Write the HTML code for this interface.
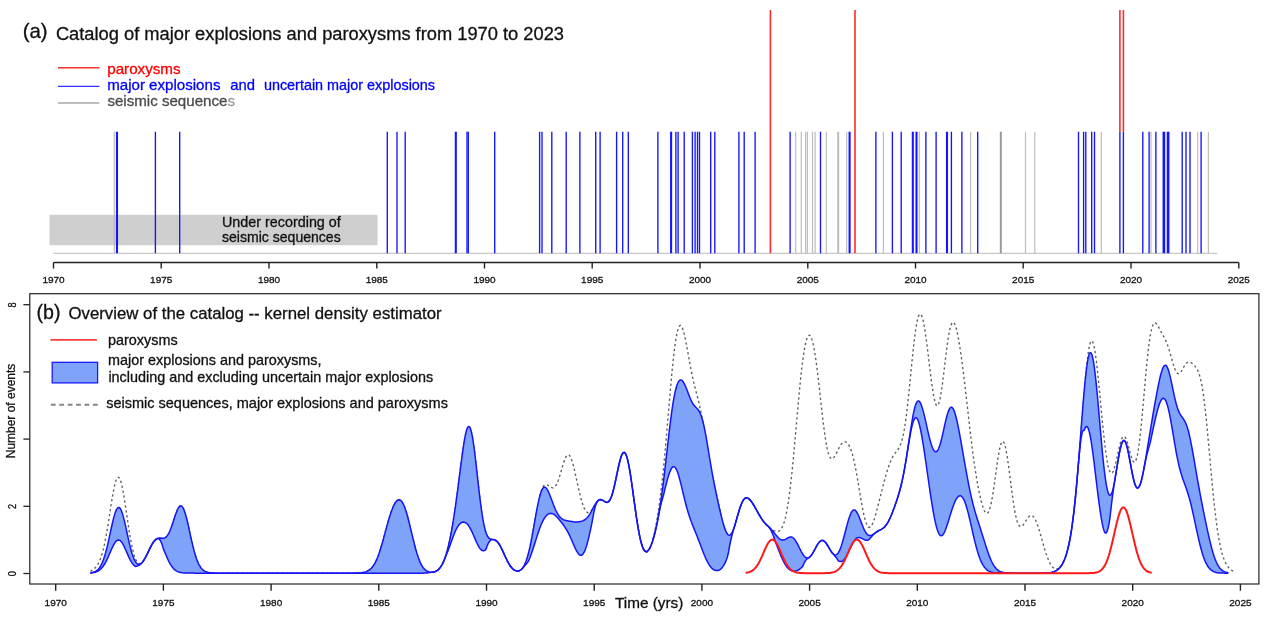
<!DOCTYPE html>
<html><head><meta charset="utf-8"><title>Catalog</title>
<style>
html,body{margin:0;padding:0;background:#fff;}
svg{display:block;filter:opacity(1);}
svg text{font-family:"Liberation Sans",sans-serif;stroke-width:0.3px;}
</style></head>
<body>
<svg width="1275" height="617" viewBox="0 0 1275 617">
<rect width="1275" height="617" fill="#fff"/>
<g id="top">
<rect x="49.5" y="214.8" width="328" height="30.4" fill="#cfcfcf"/>
<line x1="53.5" y1="253.3" x2="1217.3" y2="253.3" stroke="#c8c8c8" stroke-width="1.2"/>
<line x1="114.3" y1="131.7" x2="114.3" y2="253.2" stroke="#bdbdbd" stroke-width="1.2"/>
<line x1="795.7" y1="131.7" x2="795.7" y2="253.2" stroke="#bdbdbd" stroke-width="1.2"/>
<line x1="801.3" y1="131.7" x2="801.3" y2="253.2" stroke="#bdbdbd" stroke-width="1.2"/>
<line x1="805.6" y1="131.7" x2="805.6" y2="253.2" stroke="#bdbdbd" stroke-width="1.2"/>
<line x1="807.4" y1="131.7" x2="807.4" y2="253.2" stroke="#bdbdbd" stroke-width="1.2"/>
<line x1="812.5" y1="131.7" x2="812.5" y2="253.2" stroke="#bdbdbd" stroke-width="1.2"/>
<line x1="815.1" y1="131.7" x2="815.1" y2="253.2" stroke="#bdbdbd" stroke-width="1.2"/>
<line x1="826.3" y1="131.7" x2="826.3" y2="253.2" stroke="#bdbdbd" stroke-width="1.2"/>
<line x1="838.2" y1="131.7" x2="838.2" y2="253.2" stroke="#bdbdbd" stroke-width="2.0"/>
<line x1="846.7" y1="131.7" x2="846.7" y2="253.2" stroke="#bdbdbd" stroke-width="1.2"/>
<line x1="883.4" y1="131.7" x2="883.4" y2="253.2" stroke="#bdbdbd" stroke-width="1.2"/>
<line x1="919.4" y1="131.7" x2="919.4" y2="253.2" stroke="#bdbdbd" stroke-width="1.2"/>
<line x1="970.6" y1="131.7" x2="970.6" y2="253.2" stroke="#bdbdbd" stroke-width="1.2"/>
<line x1="1000.8" y1="131.7" x2="1000.8" y2="253.2" stroke="#9a9a9a" stroke-width="2.0"/>
<line x1="1025.5" y1="131.7" x2="1025.5" y2="253.2" stroke="#bdbdbd" stroke-width="1.2"/>
<line x1="1034.8" y1="131.7" x2="1034.8" y2="253.2" stroke="#bdbdbd" stroke-width="1.2"/>
<line x1="1101.3" y1="131.7" x2="1101.3" y2="253.2" stroke="#bdbdbd" stroke-width="1.2"/>
<line x1="1151" y1="131.7" x2="1151" y2="253.2" stroke="#bdbdbd" stroke-width="1.2"/>
<line x1="1197.7" y1="131.7" x2="1197.7" y2="253.2" stroke="#bdbdbd" stroke-width="1.2"/>
<line x1="1208.4" y1="131.7" x2="1208.4" y2="253.2" stroke="#bdbdbd" stroke-width="1.2"/>
<line x1="117.0" y1="131.7" x2="117.0" y2="253.2" stroke="#1414ff" stroke-width="2.1"/>
<line x1="155.4" y1="131.7" x2="155.4" y2="253.2" stroke="#1414ff" stroke-width="1.35"/>
<line x1="179.7" y1="131.7" x2="179.7" y2="253.2" stroke="#1414ff" stroke-width="1.35"/>
<line x1="387.3" y1="131.7" x2="387.3" y2="253.2" stroke="#1414ff" stroke-width="1.35"/>
<line x1="397" y1="131.7" x2="397" y2="253.2" stroke="#1414ff" stroke-width="1.35"/>
<line x1="405.2" y1="131.7" x2="405.2" y2="253.2" stroke="#1414ff" stroke-width="1.35"/>
<line x1="455.8" y1="131.7" x2="455.8" y2="253.2" stroke="#1414ff" stroke-width="2.1"/>
<line x1="467" y1="131.7" x2="467" y2="253.2" stroke="#1414ff" stroke-width="1.35"/>
<line x1="468.3" y1="131.7" x2="468.3" y2="253.2" stroke="#1414ff" stroke-width="1.35"/>
<line x1="494.7" y1="131.7" x2="494.7" y2="253.2" stroke="#1414ff" stroke-width="1.35"/>
<line x1="539.6" y1="131.7" x2="539.6" y2="253.2" stroke="#1414ff" stroke-width="1.35"/>
<line x1="542" y1="131.7" x2="542" y2="253.2" stroke="#1414ff" stroke-width="1.35"/>
<line x1="551.8" y1="131.7" x2="551.8" y2="253.2" stroke="#1414ff" stroke-width="1.35"/>
<line x1="566.2" y1="131.7" x2="566.2" y2="253.2" stroke="#1414ff" stroke-width="1.35"/>
<line x1="579.9" y1="131.7" x2="579.9" y2="253.2" stroke="#1414ff" stroke-width="1.35"/>
<line x1="595.7" y1="131.7" x2="595.7" y2="253.2" stroke="#1414ff" stroke-width="1.35"/>
<line x1="600.1" y1="131.7" x2="600.1" y2="253.2" stroke="#1414ff" stroke-width="1.35"/>
<line x1="616.6" y1="131.7" x2="616.6" y2="253.2" stroke="#1414ff" stroke-width="1.35"/>
<line x1="622.7" y1="131.7" x2="622.7" y2="253.2" stroke="#1414ff" stroke-width="1.35"/>
<line x1="628.3" y1="131.7" x2="628.3" y2="253.2" stroke="#1414ff" stroke-width="1.35"/>
<line x1="657.9" y1="131.7" x2="657.9" y2="253.2" stroke="#1414ff" stroke-width="1.35"/>
<line x1="671.1" y1="131.7" x2="671.1" y2="253.2" stroke="#1414ff" stroke-width="2.1"/>
<line x1="675.9" y1="131.7" x2="675.9" y2="253.2" stroke="#1414ff" stroke-width="1.35"/>
<line x1="678.1" y1="131.7" x2="678.1" y2="253.2" stroke="#1414ff" stroke-width="1.35"/>
<line x1="684.2" y1="131.7" x2="684.2" y2="253.2" stroke="#1414ff" stroke-width="1.35"/>
<line x1="692.4" y1="131.7" x2="692.4" y2="253.2" stroke="#1414ff" stroke-width="1.35"/>
<line x1="695.1" y1="131.7" x2="695.1" y2="253.2" stroke="#1414ff" stroke-width="1.35"/>
<line x1="697.5" y1="131.7" x2="697.5" y2="253.2" stroke="#1414ff" stroke-width="1.35"/>
<line x1="699.5" y1="131.7" x2="699.5" y2="253.2" stroke="#1414ff" stroke-width="1.35"/>
<line x1="710.7" y1="131.7" x2="710.7" y2="253.2" stroke="#1414ff" stroke-width="1.35"/>
<line x1="714.8" y1="131.7" x2="714.8" y2="253.2" stroke="#1414ff" stroke-width="1.35"/>
<line x1="738.9" y1="131.7" x2="738.9" y2="253.2" stroke="#1414ff" stroke-width="1.35"/>
<line x1="744.2" y1="131.7" x2="744.2" y2="253.2" stroke="#1414ff" stroke-width="1.35"/>
<line x1="755.1" y1="131.7" x2="755.1" y2="253.2" stroke="#1414ff" stroke-width="1.35"/>
<line x1="790.1" y1="131.7" x2="790.1" y2="253.2" stroke="#1414ff" stroke-width="1.35"/>
<line x1="820.5" y1="131.7" x2="820.5" y2="253.2" stroke="#1414ff" stroke-width="1.35"/>
<line x1="849.6" y1="131.7" x2="849.6" y2="253.2" stroke="#1414ff" stroke-width="2.1"/>
<line x1="875.9" y1="131.7" x2="875.9" y2="253.2" stroke="#1414ff" stroke-width="1.35"/>
<line x1="892.4" y1="131.7" x2="892.4" y2="253.2" stroke="#1414ff" stroke-width="1.35"/>
<line x1="901.2" y1="131.7" x2="901.2" y2="253.2" stroke="#1414ff" stroke-width="1.35"/>
<line x1="912.8" y1="131.7" x2="912.8" y2="253.2" stroke="#1414ff" stroke-width="2.1"/>
<line x1="916.5" y1="131.7" x2="916.5" y2="253.2" stroke="#1414ff" stroke-width="2.1"/>
<line x1="925.9" y1="131.7" x2="925.9" y2="253.2" stroke="#1414ff" stroke-width="1.35"/>
<line x1="936.1" y1="131.7" x2="936.1" y2="253.2" stroke="#1414ff" stroke-width="1.35"/>
<line x1="947.0" y1="131.7" x2="947.0" y2="253.2" stroke="#1414ff" stroke-width="2.1"/>
<line x1="951.4" y1="131.7" x2="951.4" y2="253.2" stroke="#1414ff" stroke-width="1.35"/>
<line x1="961.9" y1="131.7" x2="961.9" y2="253.2" stroke="#1414ff" stroke-width="1.35"/>
<line x1="977.7" y1="131.7" x2="977.7" y2="253.2" stroke="#1414ff" stroke-width="1.35"/>
<line x1="1078.5" y1="131.7" x2="1078.5" y2="253.2" stroke="#1414ff" stroke-width="1.35"/>
<line x1="1083.6" y1="131.7" x2="1083.6" y2="253.2" stroke="#1414ff" stroke-width="1.35"/>
<line x1="1085.8" y1="131.7" x2="1085.8" y2="253.2" stroke="#1414ff" stroke-width="1.35"/>
<line x1="1091.7" y1="131.7" x2="1091.7" y2="253.2" stroke="#1414ff" stroke-width="1.35"/>
<line x1="1094.5" y1="131.7" x2="1094.5" y2="253.2" stroke="#1414ff" stroke-width="1.35"/>
<line x1="1119.9" y1="131.7" x2="1119.9" y2="253.2" stroke="#1414ff" stroke-width="1.35"/>
<line x1="1123.4" y1="131.7" x2="1123.4" y2="253.2" stroke="#1414ff" stroke-width="1.35"/>
<line x1="1142.8" y1="131.7" x2="1142.8" y2="253.2" stroke="#1414ff" stroke-width="1.35"/>
<line x1="1149.1" y1="131.7" x2="1149.1" y2="253.2" stroke="#1414ff" stroke-width="1.35"/>
<line x1="1155.9" y1="131.7" x2="1155.9" y2="253.2" stroke="#1414ff" stroke-width="1.35"/>
<line x1="1163.9" y1="131.7" x2="1163.9" y2="253.2" stroke="#1414ff" stroke-width="2.7"/>
<line x1="1168.1" y1="131.7" x2="1168.1" y2="253.2" stroke="#1414ff" stroke-width="2.7"/>
<line x1="1182.2" y1="131.7" x2="1182.2" y2="253.2" stroke="#1414ff" stroke-width="1.35"/>
<line x1="1186" y1="131.7" x2="1186" y2="253.2" stroke="#1414ff" stroke-width="1.35"/>
<line x1="1190" y1="131.7" x2="1190" y2="253.2" stroke="#1414ff" stroke-width="1.35"/>
<line x1="1201.1" y1="131.7" x2="1201.1" y2="253.2" stroke="#1414ff" stroke-width="1.35"/>
<line x1="770.4" y1="10" x2="770.4" y2="253.2" stroke="#ff2a2a" stroke-width="1.6"/>
<line x1="855.0" y1="10" x2="855.0" y2="253.2" stroke="#ff2a2a" stroke-width="1.6"/>
<line x1="1119.9" y1="10" x2="1119.9" y2="131.7" stroke="#ff2a2a" stroke-width="1.6"/>
<line x1="1123.4" y1="10" x2="1123.4" y2="131.7" stroke="#ff2a2a" stroke-width="1.6"/>
<line x1="53.5" y1="262.5" x2="1238.75" y2="262.5" stroke="#222" stroke-width="1.4"/>
<line x1="53.5" y1="262.5" x2="53.5" y2="268.5" stroke="#222" stroke-width="1.4"/>
<text transform="translate(53.5,282.6) scale(1,0.95)" font-size="10" text-anchor="middle" fill="#111" stroke="#111">1970</text>
<line x1="161.2" y1="262.5" x2="161.2" y2="268.5" stroke="#222" stroke-width="1.4"/>
<text transform="translate(161.2,282.6) scale(1,0.95)" font-size="10" text-anchor="middle" fill="#111" stroke="#111">1975</text>
<line x1="269.0" y1="262.5" x2="269.0" y2="268.5" stroke="#222" stroke-width="1.4"/>
<text transform="translate(269.0,282.6) scale(1,0.95)" font-size="10" text-anchor="middle" fill="#111" stroke="#111">1980</text>
<line x1="376.8" y1="262.5" x2="376.8" y2="268.5" stroke="#222" stroke-width="1.4"/>
<text transform="translate(376.8,282.6) scale(1,0.95)" font-size="10" text-anchor="middle" fill="#111" stroke="#111">1985</text>
<line x1="484.5" y1="262.5" x2="484.5" y2="268.5" stroke="#222" stroke-width="1.4"/>
<text transform="translate(484.5,282.6) scale(1,0.95)" font-size="10" text-anchor="middle" fill="#111" stroke="#111">1990</text>
<line x1="592.2" y1="262.5" x2="592.2" y2="268.5" stroke="#222" stroke-width="1.4"/>
<text transform="translate(592.2,282.6) scale(1,0.95)" font-size="10" text-anchor="middle" fill="#111" stroke="#111">1995</text>
<line x1="700.0" y1="262.5" x2="700.0" y2="268.5" stroke="#222" stroke-width="1.4"/>
<text transform="translate(700.0,282.6) scale(1,0.95)" font-size="10" text-anchor="middle" fill="#111" stroke="#111">2000</text>
<line x1="807.8" y1="262.5" x2="807.8" y2="268.5" stroke="#222" stroke-width="1.4"/>
<text transform="translate(807.8,282.6) scale(1,0.95)" font-size="10" text-anchor="middle" fill="#111" stroke="#111">2005</text>
<line x1="915.5" y1="262.5" x2="915.5" y2="268.5" stroke="#222" stroke-width="1.4"/>
<text transform="translate(915.5,282.6) scale(1,0.95)" font-size="10" text-anchor="middle" fill="#111" stroke="#111">2010</text>
<line x1="1023.2" y1="262.5" x2="1023.2" y2="268.5" stroke="#222" stroke-width="1.4"/>
<text transform="translate(1023.2,282.6) scale(1,0.95)" font-size="10" text-anchor="middle" fill="#111" stroke="#111">2015</text>
<line x1="1131.0" y1="262.5" x2="1131.0" y2="268.5" stroke="#222" stroke-width="1.4"/>
<text transform="translate(1131.0,282.6) scale(1,0.95)" font-size="10" text-anchor="middle" fill="#111" stroke="#111">2020</text>
<line x1="1238.8" y1="262.5" x2="1238.8" y2="268.5" stroke="#222" stroke-width="1.4"/>
<text transform="translate(1238.8,282.6) scale(1,0.95)" font-size="10" text-anchor="middle" fill="#111" stroke="#111">2025</text>
</g>
<g id="bottom">
<path d="M90.3,571.2 L91.3,570.8 L92.3,570.2 L93.3,569.5 L94.3,568.7 L95.3,567.7 L96.3,566.5 L97.3,565.1 L98.3,563.4 L99.3,561.4 L100.3,559.1 L101.3,556.3 L102.3,553.0 L103.3,549.2 L104.3,544.9 L105.3,540.1 L106.3,534.8 L107.3,529.1 L108.3,522.9 L109.3,516.5 L110.3,510.1 L111.3,503.6 L112.3,497.5 L113.3,491.8 L114.3,486.8 L115.3,482.7 L116.3,479.6 L117.3,477.8 L118.3,477.2 L119.3,477.9 L120.3,479.9 L121.3,483.1 L122.3,487.4 L123.3,492.6 L124.3,498.6 L125.3,505.0 L126.3,511.8 L127.3,518.6 L128.3,525.4 L129.3,531.8 L130.3,537.8 L131.3,543.2 L132.3,548.1 L133.3,552.2 L134.3,555.7 L135.3,558.5 L136.3,560.7 L137.3,562.2 L138.3,563.2 L139.3,563.6 L140.3,563.6 L141.3,563.1 L142.3,562.2 L143.3,561.0 L144.3,559.5 L145.3,557.8 L146.3,555.9 L147.3,553.9 L148.3,551.8 L149.3,549.7 L150.3,547.7 L151.3,545.7 L152.3,543.9 L153.3,542.4 L154.3,541.0 L155.3,539.9 L156.3,539.1 L157.3,538.5 L158.3,538.2 L159.3,538.1 L160.3,538.1 L161.3,538.2 L162.3,538.3 L163.3,538.2 L164.3,538.0 L165.3,537.6 L166.3,536.8 L167.3,535.7 L168.3,534.2 L169.3,532.3 L170.3,530.0 L171.3,527.4 L172.3,524.5 L173.3,521.4 L174.3,518.3 L175.3,515.3 L176.3,512.4 L177.3,510.0 L178.3,508.0 L179.3,506.6 L180.3,505.9 L181.3,505.9 L182.3,506.8 L183.3,508.4 L184.3,510.7 L185.3,513.7 L186.3,517.3 L187.3,521.3 L188.3,525.6 L189.3,530.2 L190.3,534.8 L191.3,539.3 L192.3,543.7 L193.3,547.8 L194.3,551.6 L195.3,555.1 L196.3,558.2 L197.3,560.9 L198.3,563.3 L199.3,565.2 L200.3,566.9 L201.3,568.3 L202.3,569.4 L203.3,570.3 L204.3,571.0 L205.3,571.5 L206.3,571.9 L207.3,572.3 L208.3,572.5 L209.3,572.7 L210.3,572.8 L211.3,572.9 L212.3,573.0 L213.3,573.1 L214.3,573.1 L215.3,573.1 L216.3,573.2 L217.3,573.2 L218.3,573.2 L219.3,573.2 L220.3,573.2 L221.3,573.2 L222.3,573.2 L223.3,573.2 L224.3,573.2 L225.3,573.2 L226.3,573.2 L227.3,573.2 L228.3,573.2 L229.3,573.2 L230.3,573.2 L231.3,573.2 L232.3,573.2 L233.3,573.2 L234.3,573.2 L235.3,573.2 L236.3,573.2 L237.3,573.2 L238.3,573.2 L239.3,573.2 L240.3,573.2 L241.3,573.2 L242.3,573.2 L243.3,573.2 L244.3,573.2 L245.3,573.2 L246.3,573.2 L247.3,573.2 L248.3,573.2 L249.3,573.2 L250.3,573.2 L251.3,573.2 L252.3,573.2 L253.3,573.2 L254.3,573.2 L255.3,573.2 L256.3,573.2 L257.3,573.2 L258.3,573.2 L259.3,573.2 L260.3,573.2 L261.3,573.2 L262.3,573.2 L263.3,573.2 L264.3,573.2 L265.3,573.2 L266.3,573.2 L267.3,573.2 L268.3,573.2 L269.3,573.2 L270.3,573.2 L271.3,573.2 L272.3,573.2 L273.3,573.2 L274.3,573.2 L275.3,573.2 L276.3,573.2 L277.3,573.2 L278.3,573.2 L279.3,573.2 L280.3,573.2 L281.3,573.2 L282.3,573.2 L283.3,573.2 L284.3,573.2 L285.3,573.2 L286.3,573.2 L287.3,573.2 L288.3,573.2 L289.3,573.2 L290.3,573.2 L291.3,573.2 L292.3,573.2 L293.3,573.2 L294.3,573.2 L295.3,573.2 L296.3,573.2 L297.3,573.2 L298.3,573.2 L299.3,573.2 L300.3,573.2 L301.3,573.2 L302.3,573.2 L303.3,573.2 L304.3,573.2 L305.3,573.2 L306.3,573.2 L307.3,573.2 L308.3,573.2 L309.3,573.2 L310.3,573.2 L311.3,573.2 L312.3,573.2 L313.3,573.2 L314.3,573.2 L315.3,573.2 L316.3,573.2 L317.3,573.2 L318.3,573.2 L319.3,573.2 L320.3,573.2 L321.3,573.2 L322.3,573.2 L323.3,573.2 L324.3,573.2 L325.3,573.2 L326.3,573.2 L327.3,573.2 L328.3,573.2 L329.3,573.2 L330.3,573.2 L331.3,573.2 L332.3,573.2 L333.3,573.2 L334.3,573.2 L335.3,573.2 L336.3,573.2 L337.3,573.2 L338.3,573.2 L339.3,573.2 L340.3,573.2 L341.3,573.2 L342.3,573.2 L343.3,573.2 L344.3,573.2 L345.3,573.2 L346.3,573.2 L347.3,573.2 L348.3,573.2 L349.3,573.2 L350.3,573.2 L351.3,573.2 L352.3,573.2 L353.3,573.2 L354.3,573.1 L355.3,573.1 L356.3,573.1 L357.3,573.1 L358.3,573.0 L359.3,572.9 L360.3,572.9 L361.3,572.7 L362.3,572.6 L363.3,572.4 L364.3,572.2 L365.3,571.9 L366.3,571.6 L367.3,571.2 L368.3,570.6 L369.3,570.0 L370.3,569.2 L371.3,568.3 L372.3,567.1 L373.3,565.8 L374.3,564.2 L375.3,562.4 L376.3,560.4 L377.3,558.1 L378.3,555.5 L379.3,552.7 L380.3,549.6 L381.3,546.3 L382.3,542.9 L383.3,539.3 L384.3,535.6 L385.3,531.9 L386.3,528.2 L387.3,524.6 L388.3,521.0 L389.3,517.6 L390.3,514.5 L391.3,511.5 L392.3,508.9 L393.3,506.5 L394.3,504.4 L395.3,502.7 L396.3,501.4 L397.3,500.4 L398.3,499.9 L399.3,499.8 L400.3,500.2 L401.3,501.0 L402.3,502.3 L403.3,504.1 L404.3,506.3 L405.3,509.0 L406.3,512.0 L407.3,515.5 L408.3,519.2 L409.3,523.1 L410.3,527.3 L411.3,531.5 L412.3,535.7 L413.3,539.8 L414.3,543.9 L415.3,547.7 L416.3,551.3 L417.3,554.6 L418.3,557.6 L419.3,560.2 L420.3,562.6 L421.3,564.6 L422.3,566.3 L423.3,567.8 L424.3,569.0 L425.3,569.9 L426.3,570.7 L427.3,571.3 L428.3,571.7 L429.3,572.0 L430.3,572.2 L431.3,572.2 L432.3,572.2 L433.3,572.1 L434.3,571.8 L435.3,571.5 L436.3,571.0 L437.3,570.4 L438.3,569.6 L439.3,568.6 L440.3,567.4 L441.3,565.9 L442.3,564.2 L443.3,562.1 L444.3,559.7 L445.3,557.0 L446.3,553.8 L447.3,550.3 L448.3,546.4 L449.3,542.0 L450.3,537.3 L451.3,532.1 L452.3,526.5 L453.3,520.5 L454.3,514.1 L455.3,507.3 L456.3,500.2 L457.3,492.7 L458.3,485.1 L459.3,477.2 L460.3,469.4 L461.3,461.6 L462.3,454.1 L463.3,447.1 L464.3,440.8 L465.3,435.4 L466.3,431.1 L467.3,428.2 L468.3,426.6 L469.3,426.7 L470.3,428.3 L471.3,431.5 L472.3,436.2 L473.3,442.3 L474.3,449.5 L475.3,457.6 L476.3,466.3 L477.3,475.3 L478.3,484.3 L479.3,493.1 L480.3,501.3 L481.3,508.9 L482.3,515.7 L483.3,521.6 L484.3,526.5 L485.3,530.5 L486.3,533.6 L487.3,535.8 L488.3,537.4 L489.3,538.4 L490.3,539.0 L491.3,539.3 L492.3,539.5 L493.3,539.6 L494.3,539.9 L495.3,540.2 L496.3,540.9 L497.3,541.7 L498.3,542.9 L499.3,544.4 L500.3,546.1 L501.3,548.0 L502.3,550.1 L503.3,552.2 L504.3,554.5 L505.3,556.7 L506.3,558.8 L507.3,560.9 L508.3,562.7 L509.3,564.5 L510.3,566.0 L511.3,567.3 L512.3,568.4 L513.3,569.3 L514.3,570.0 L515.3,570.6 L516.3,570.9 L517.3,571.0 L518.3,571.0 L519.3,570.7 L520.3,570.2 L521.3,569.4 L522.3,568.4 L523.3,567.0 L524.3,565.2 L525.3,563.1 L526.3,560.5 L527.3,557.4 L528.3,553.9 L529.3,549.8 L530.3,545.3 L531.3,540.4 L532.3,535.2 L533.3,529.7 L534.3,524.0 L535.3,518.3 L536.3,512.7 L537.3,507.4 L538.3,502.5 L539.3,498.0 L540.3,494.1 L541.3,490.9 L542.3,488.4 L543.3,486.5 L544.3,485.3 L545.3,484.7 L546.3,484.6 L547.3,484.9 L548.3,485.5 L549.3,486.2 L550.3,486.9 L551.3,487.5 L552.3,487.8 L553.3,487.8 L554.3,487.3 L555.3,486.3 L556.3,484.8 L557.3,482.8 L558.3,480.3 L559.3,477.3 L560.3,474.1 L561.3,470.6 L562.3,467.1 L563.3,463.8 L564.3,460.7 L565.3,458.2 L566.3,456.2 L567.3,455.1 L568.3,454.7 L569.3,455.2 L570.3,456.6 L571.3,458.8 L572.3,461.8 L573.3,465.3 L574.3,469.4 L575.3,473.8 L576.3,478.3 L577.3,483.0 L578.3,487.5 L579.3,491.9 L580.3,496.0 L581.3,499.8 L582.3,503.1 L583.3,506.0 L584.3,508.4 L585.3,510.3 L586.3,511.6 L587.3,512.4 L588.3,512.7 L589.3,512.4 L590.3,511.8 L591.3,510.7 L592.3,509.4 L593.3,507.8 L594.3,506.1 L595.3,504.5 L596.3,503.0 L597.3,501.7 L598.3,500.7 L599.3,500.0 L600.3,499.7 L601.3,499.7 L602.3,500.0 L603.3,500.6 L604.3,501.2 L605.3,501.7 L606.3,502.1 L607.3,502.2 L608.3,501.8 L609.3,500.8 L610.3,499.2 L611.3,497.0 L612.3,494.0 L613.3,490.5 L614.3,486.4 L615.3,481.9 L616.3,477.2 L617.3,472.3 L618.3,467.7 L619.3,463.3 L620.3,459.5 L621.3,456.3 L622.3,454.0 L623.3,452.7 L624.3,452.5 L625.3,453.4 L626.3,455.5 L627.3,458.6 L628.3,462.8 L629.3,467.9 L630.3,473.8 L631.3,480.3 L632.3,487.3 L633.3,494.5 L634.3,501.8 L635.3,509.1 L636.3,516.1 L637.3,522.7 L638.3,528.8 L639.3,534.3 L640.3,539.2 L641.3,543.3 L642.3,546.6 L643.3,549.2 L644.3,551.0 L645.3,552.0 L646.3,552.3 L647.3,552.0 L648.3,551.0 L649.3,549.4 L650.3,547.2 L651.3,544.4 L652.3,541.2 L653.3,537.5 L654.3,533.2 L655.3,528.5 L656.3,523.3 L657.3,517.5 L658.3,511.2 L659.3,504.3 L660.3,496.7 L661.3,488.5 L662.3,479.6 L663.3,470.0 L664.3,459.7 L665.3,448.9 L666.3,437.6 L667.3,426.0 L668.3,414.1 L669.3,402.3 L670.3,390.7 L671.3,379.5 L672.3,368.9 L673.3,359.2 L674.3,350.5 L675.3,342.9 L676.3,336.6 L677.3,331.7 L678.3,328.2 L679.3,326.1 L680.3,325.4 L681.3,326.0 L682.3,327.8 L683.3,330.6 L684.3,334.3 L685.3,338.8 L686.3,343.8 L687.3,349.2 L688.3,354.7 L689.3,360.3 L690.3,365.7 L691.3,370.9 L692.3,375.8 L693.3,380.3 L694.3,384.6 L695.3,388.7 L696.3,392.6 L697.3,396.4 L698.3,400.4 L699.3,404.6 L700.3,409.0 L701.3,413.8 L702.3,418.9 L703.3,424.3 L704.3,430.0 L705.3,435.9 L706.3,441.9 L707.3,447.9 L708.3,453.8 L709.3,459.5 L710.3,465.0 L711.3,470.3 L712.3,475.3 L713.3,480.1 L714.3,484.7 L715.3,489.2 L716.3,493.6 L717.3,498.1 L718.3,502.5 L719.3,506.9 L720.3,511.3 L721.3,515.6 L722.3,519.7 L723.3,523.6 L724.3,527.1 L725.3,530.1 L726.3,532.6 L727.3,534.4 L728.3,535.4 L729.3,535.8 L730.3,535.3 L731.3,534.2 L732.3,532.3 L733.3,529.9 L734.3,526.9 L735.3,523.6 L736.3,520.1 L737.3,516.6 L738.3,513.1 L739.3,509.7 L740.3,506.7 L741.3,504.1 L742.3,501.9 L743.3,500.2 L744.3,499.0 L745.3,498.2 L746.3,498.0 L747.3,498.1 L748.3,498.5 L749.3,499.3 L750.3,500.3 L751.3,501.5 L752.3,502.9 L753.3,504.3 L754.3,505.9 L755.3,507.6 L756.3,509.3 L757.3,511.1 L758.3,512.9 L759.3,514.7 L760.3,516.5 L761.3,518.2 L762.3,519.9 L763.3,521.4 L764.3,522.9 L765.3,524.2 L766.3,525.3 L767.3,526.4 L768.3,527.3 L769.3,528.0 L770.3,528.7 L771.3,529.4 L772.3,529.9 L773.3,530.4 L774.3,530.8 L775.3,531.2 L776.3,531.4 L777.3,531.4 L778.3,531.2 L779.3,530.8 L780.3,530.0 L781.3,528.7 L782.3,527.0 L783.3,524.6 L784.3,521.7 L785.3,518.0 L786.3,513.5 L787.3,508.2 L788.3,502.1 L789.3,495.1 L790.3,487.2 L791.3,478.5 L792.3,469.0 L793.3,458.8 L794.3,448.1 L795.3,437.0 L796.3,425.7 L797.3,414.3 L798.3,403.1 L799.3,392.3 L800.3,382.0 L801.3,372.5 L802.3,363.9 L803.3,356.3 L804.3,349.8 L805.3,344.5 L806.3,340.4 L807.3,337.4 L808.3,335.7 L809.3,335.2 L810.3,335.9 L811.3,337.7 L812.3,340.6 L813.3,344.7 L814.3,349.8 L815.3,355.9 L816.3,362.9 L817.3,370.6 L818.3,379.0 L819.3,387.7 L820.3,396.8 L821.3,405.8 L822.3,414.7 L823.3,423.1 L824.3,430.9 L825.3,437.9 L826.3,444.0 L827.3,449.0 L828.3,453.0 L829.3,455.9 L830.3,457.8 L831.3,458.7 L832.3,458.8 L833.3,458.1 L834.3,456.9 L835.3,455.3 L836.3,453.4 L837.3,451.3 L838.3,449.3 L839.3,447.4 L840.3,445.7 L841.3,444.2 L842.3,443.1 L843.3,442.3 L844.3,441.9 L845.3,441.9 L846.3,442.2 L847.3,443.0 L848.3,444.2 L849.3,445.9 L850.3,448.0 L851.3,450.7 L852.3,453.9 L853.3,457.7 L854.3,462.0 L855.3,466.9 L856.3,472.1 L857.3,477.8 L858.3,483.7 L859.3,489.8 L860.3,495.8 L861.3,501.6 L862.3,507.2 L863.3,512.2 L864.3,516.7 L865.3,520.5 L866.3,523.5 L867.3,525.6 L868.3,526.9 L869.3,527.4 L870.3,527.0 L871.3,525.9 L872.3,524.2 L873.3,521.8 L874.3,519.0 L875.3,515.7 L876.3,512.2 L877.3,508.4 L878.3,504.5 L879.3,500.6 L880.3,496.6 L881.3,492.6 L882.3,488.7 L883.3,484.8 L884.3,481.0 L885.3,477.4 L886.3,473.9 L887.3,470.5 L888.3,467.4 L889.3,464.5 L890.3,461.9 L891.3,459.5 L892.3,457.5 L893.3,455.7 L894.3,454.2 L895.3,452.9 L896.3,451.6 L897.3,450.4 L898.3,449.0 L899.3,447.4 L900.3,445.3 L901.3,442.6 L902.3,439.1 L903.3,434.7 L904.3,429.4 L905.3,423.1 L906.3,415.7 L907.3,407.5 L908.3,398.5 L909.3,388.8 L910.3,378.8 L911.3,368.6 L912.3,358.7 L913.3,349.1 L914.3,340.3 L915.3,332.5 L916.3,325.8 L917.3,320.6 L918.3,316.8 L919.3,314.6 L920.3,314.0 L921.3,315.0 L922.3,317.5 L923.3,321.3 L924.3,326.4 L925.3,332.6 L926.3,339.7 L927.3,347.5 L928.3,355.7 L929.3,364.1 L930.3,372.4 L931.3,380.3 L932.3,387.6 L933.3,393.9 L934.3,399.1 L935.3,403.0 L936.3,405.2 L937.3,405.8 L938.3,404.7 L939.3,401.9 L940.3,397.5 L941.3,391.7 L942.3,384.8 L943.3,377.0 L944.3,368.7 L945.3,360.3 L946.3,352.0 L947.3,344.4 L948.3,337.6 L949.3,331.9 L950.3,327.4 L951.3,324.3 L952.3,322.6 L953.3,322.3 L954.3,323.3 L955.3,325.4 L956.3,328.7 L957.3,332.9 L958.3,337.9 L959.3,343.6 L960.3,350.0 L961.3,356.9 L962.3,364.2 L963.3,372.0 L964.3,380.2 L965.3,388.6 L966.3,397.3 L967.3,406.1 L968.3,414.9 L969.3,423.7 L970.3,432.3 L971.3,440.7 L972.3,448.7 L973.3,456.3 L974.3,463.5 L975.3,470.2 L976.3,476.5 L977.3,482.3 L978.3,487.8 L979.3,492.8 L980.3,497.3 L981.3,501.5 L982.3,505.1 L983.3,508.3 L984.3,510.8 L985.3,512.5 L986.3,513.4 L987.3,513.4 L988.3,512.4 L989.3,510.2 L990.3,506.9 L991.3,502.6 L992.3,497.3 L993.3,491.1 L994.3,484.3 L995.3,477.1 L996.3,469.8 L997.3,462.7 L998.3,456.2 L999.3,450.6 L1000.3,446.1 L1001.3,443.0 L1002.3,441.5 L1003.3,441.6 L1004.3,443.3 L1005.3,446.7 L1006.3,451.4 L1007.3,457.3 L1008.3,464.2 L1009.3,471.7 L1010.3,479.5 L1011.3,487.4 L1012.3,494.9 L1013.3,502.0 L1014.3,508.4 L1015.3,513.8 L1016.3,518.3 L1017.3,521.8 L1018.3,524.3 L1019.3,525.9 L1020.3,526.6 L1021.3,526.5 L1022.3,525.9 L1023.3,524.8 L1024.3,523.3 L1025.3,521.7 L1026.3,520.1 L1027.3,518.5 L1028.3,517.2 L1029.3,516.2 L1030.3,515.6 L1031.3,515.4 L1032.3,515.7 L1033.3,516.4 L1034.3,517.7 L1035.3,519.5 L1036.3,521.7 L1037.3,524.2 L1038.3,527.2 L1039.3,530.4 L1040.3,533.8 L1041.3,537.3 L1042.3,540.9 L1043.3,544.4 L1044.3,547.9 L1045.3,551.2 L1046.3,554.3 L1047.3,557.1 L1048.3,559.6 L1049.3,561.9 L1050.3,563.8 L1051.3,565.4 L1052.3,566.7 L1053.3,567.7 L1054.3,568.4 L1055.3,568.8 L1056.3,569.0 L1057.3,568.8 L1058.3,568.4 L1059.3,567.8 L1060.3,566.8 L1061.3,565.6 L1062.3,564.0 L1063.3,562.2 L1064.3,559.9 L1065.3,557.3 L1066.3,554.2 L1067.3,550.7 L1068.3,546.6 L1069.3,541.9 L1070.3,536.7 L1071.3,530.7 L1072.3,524.0 L1073.3,516.5 L1074.3,508.2 L1075.3,499.1 L1076.3,489.1 L1077.3,478.3 L1078.3,466.8 L1079.3,454.7 L1080.3,442.1 L1081.3,429.2 L1082.3,416.2 L1083.3,403.4 L1084.3,391.1 L1085.3,379.6 L1086.3,369.1 L1087.3,359.9 L1088.3,352.3 L1089.3,346.5 L1090.3,342.7 L1091.3,340.9 L1092.3,341.1 L1093.3,343.4 L1094.3,347.5 L1095.3,353.4 L1096.3,360.7 L1097.3,369.3 L1098.3,378.8 L1099.3,389.0 L1100.3,399.6 L1101.3,410.2 L1102.3,420.6 L1103.3,430.6 L1104.3,439.9 L1105.3,448.3 L1106.3,455.7 L1107.3,461.9 L1108.3,466.8 L1109.3,470.3 L1110.3,472.5 L1111.3,473.3 L1112.3,472.8 L1113.3,471.1 L1114.3,468.4 L1115.3,464.8 L1116.3,460.6 L1117.3,456.0 L1118.3,451.4 L1119.3,447.0 L1120.3,443.1 L1121.3,440.0 L1122.3,437.7 L1123.3,436.5 L1124.3,436.4 L1125.3,437.5 L1126.3,439.5 L1127.3,442.3 L1128.3,445.8 L1129.3,449.6 L1130.3,453.4 L1131.3,456.9 L1132.3,459.7 L1133.3,461.6 L1134.3,462.3 L1135.3,461.6 L1136.3,459.3 L1137.3,455.4 L1138.3,449.9 L1139.3,442.8 L1140.3,434.4 L1141.3,424.7 L1142.3,414.1 L1143.3,403.0 L1144.3,391.5 L1145.3,380.2 L1146.3,369.3 L1147.3,359.1 L1148.3,349.9 L1149.3,342.0 L1150.3,335.4 L1151.3,330.3 L1152.3,326.6 L1153.3,324.2 L1154.3,323.0 L1155.3,322.9 L1156.3,323.6 L1157.3,324.9 L1158.3,326.5 L1159.3,328.3 L1160.3,330.2 L1161.3,332.1 L1162.3,333.9 L1163.3,335.8 L1164.3,337.6 L1165.3,339.6 L1166.3,341.9 L1167.3,344.4 L1168.3,347.2 L1169.3,350.4 L1170.3,353.8 L1171.3,357.4 L1172.3,361.0 L1173.3,364.4 L1174.3,367.5 L1175.3,370.1 L1176.3,372.1 L1177.3,373.3 L1178.3,373.7 L1179.3,373.5 L1180.3,372.6 L1181.3,371.3 L1182.3,369.6 L1183.3,367.8 L1184.3,366.1 L1185.3,364.5 L1186.3,363.3 L1187.3,362.5 L1188.3,362.0 L1189.3,362.0 L1190.3,362.3 L1191.3,362.8 L1192.3,363.5 L1193.3,364.4 L1194.3,365.4 L1195.3,366.6 L1196.3,368.0 L1197.3,369.6 L1198.3,371.7 L1199.3,374.5 L1200.3,378.0 L1201.3,382.4 L1202.3,387.7 L1203.3,394.2 L1204.3,401.7 L1205.3,410.3 L1206.3,419.7 L1207.3,429.9 L1208.3,440.7 L1209.3,451.8 L1210.3,463.0 L1211.3,474.0 L1212.3,484.8 L1213.3,495.1 L1214.3,504.7 L1215.3,513.6 L1216.3,521.8 L1217.3,529.1 L1218.3,535.6 L1219.3,541.3 L1220.3,546.3 L1221.3,550.6 L1222.3,554.2 L1223.3,557.4 L1224.3,560.1 L1225.3,562.3 L1226.3,564.2 L1227.3,565.8 L1228.3,567.2 L1229.3,568.3 L1230.3,569.3 L1231.3,570.0 L1232.3,570.7 L1233.3,571.2 L1234.3,571.6" fill="none" stroke="#5c5c5c" stroke-width="1.35" stroke-dasharray="2.3 2.7"/>
<path d="M90.3,572.9 L91.3,572.7 L92.3,572.5 L93.3,572.3 L94.3,571.9 L95.3,571.5 L96.3,570.9 L97.3,570.1 L98.3,569.2 L99.3,567.9 L100.3,566.5 L101.3,564.7 L102.3,562.5 L103.3,560.0 L104.3,557.1 L105.3,553.8 L106.3,550.1 L107.3,546.1 L108.3,541.8 L109.3,537.2 L110.3,532.6 L111.3,528.0 L112.3,523.5 L113.3,519.3 L114.3,515.6 L115.3,512.4 L116.3,509.9 L117.3,508.3 L118.3,507.5 L119.3,507.6 L120.3,508.6 L121.3,510.5 L122.3,513.2 L123.3,516.6 L124.3,520.5 L125.3,524.8 L126.3,529.4 L127.3,534.0 L128.3,538.6 L129.3,543.1 L130.3,547.3 L131.3,551.1 L132.3,554.4 L133.3,557.3 L134.3,559.7 L135.3,561.6 L136.3,563.0 L137.3,563.9 L138.3,564.4 L139.3,564.4 L140.3,564.0 L141.3,563.3 L142.3,562.3 L143.3,561.0 L144.3,559.4 L145.3,557.7 L146.3,555.8 L147.3,553.8 L148.3,551.7 L149.3,549.6 L150.3,547.6 L151.3,545.7 L152.3,543.9 L153.3,542.3 L154.3,541.0 L155.3,539.9 L156.3,539.1 L157.3,538.6 L158.3,538.3 L159.3,538.1 L160.3,538.2 L161.3,538.2 L162.3,538.3 L163.3,538.2 L164.3,538.0 L165.3,537.6 L166.3,536.8 L167.3,535.7 L168.3,534.2 L169.3,532.3 L170.3,530.0 L171.3,527.3 L172.3,524.5 L173.3,521.4 L174.3,518.3 L175.3,515.3 L176.3,512.5 L177.3,510.0 L178.3,508.0 L179.3,506.6 L180.3,505.9 L181.3,505.9 L182.3,506.8 L183.3,508.4 L184.3,510.7 L185.3,513.7 L186.3,517.3 L187.3,521.3 L188.3,525.6 L189.3,530.2 L190.3,534.8 L191.3,539.3 L192.3,543.7 L193.3,547.8 L194.3,551.6 L195.3,555.1 L196.3,558.2 L197.3,560.9 L198.3,563.3 L199.3,565.2 L200.3,566.9 L201.3,568.3 L202.3,569.4 L203.3,570.3 L204.3,571.0 L205.3,571.5 L206.3,571.9 L207.3,572.3 L208.3,572.5 L209.3,572.7 L210.3,572.8 L211.3,572.9 L212.3,573.0 L213.3,573.1 L214.3,573.1 L215.3,573.1 L216.3,573.2 L217.3,573.2 L218.3,573.2 L219.3,573.2 L220.3,573.2 L221.3,573.2 L222.3,573.2 L223.3,573.2 L224.3,573.2 L225.3,573.2 L226.3,573.2 L227.3,573.2 L228.3,573.2 L229.3,573.2 L230.3,573.2 L231.3,573.2 L232.3,573.2 L233.3,573.2 L234.3,573.2 L235.3,573.2 L236.3,573.2 L237.3,573.2 L238.3,573.2 L239.3,573.2 L240.3,573.2 L241.3,573.2 L242.3,573.2 L243.3,573.2 L244.3,573.2 L245.3,573.2 L246.3,573.2 L247.3,573.2 L248.3,573.2 L249.3,573.2 L250.3,573.2 L251.3,573.2 L252.3,573.2 L253.3,573.2 L254.3,573.2 L255.3,573.2 L256.3,573.2 L257.3,573.2 L258.3,573.2 L259.3,573.2 L260.3,573.2 L261.3,573.2 L262.3,573.2 L263.3,573.2 L264.3,573.2 L265.3,573.2 L266.3,573.2 L267.3,573.2 L268.3,573.2 L269.3,573.2 L270.3,573.2 L271.3,573.2 L272.3,573.2 L273.3,573.2 L274.3,573.2 L275.3,573.2 L276.3,573.2 L277.3,573.2 L278.3,573.2 L279.3,573.2 L280.3,573.2 L281.3,573.2 L282.3,573.2 L283.3,573.2 L284.3,573.2 L285.3,573.2 L286.3,573.2 L287.3,573.2 L288.3,573.2 L289.3,573.2 L290.3,573.2 L291.3,573.2 L292.3,573.2 L293.3,573.2 L294.3,573.2 L295.3,573.2 L296.3,573.2 L297.3,573.2 L298.3,573.2 L299.3,573.2 L300.3,573.2 L301.3,573.2 L302.3,573.2 L303.3,573.2 L304.3,573.2 L305.3,573.2 L306.3,573.2 L307.3,573.2 L308.3,573.2 L309.3,573.2 L310.3,573.2 L311.3,573.2 L312.3,573.2 L313.3,573.2 L314.3,573.2 L315.3,573.2 L316.3,573.2 L317.3,573.2 L318.3,573.2 L319.3,573.2 L320.3,573.2 L321.3,573.2 L322.3,573.2 L323.3,573.2 L324.3,573.2 L325.3,573.2 L326.3,573.2 L327.3,573.2 L328.3,573.2 L329.3,573.2 L330.3,573.2 L331.3,573.2 L332.3,573.2 L333.3,573.2 L334.3,573.2 L335.3,573.2 L336.3,573.2 L337.3,573.2 L338.3,573.2 L339.3,573.2 L340.3,573.2 L341.3,573.2 L342.3,573.2 L343.3,573.2 L344.3,573.2 L345.3,573.2 L346.3,573.2 L347.3,573.2 L348.3,573.2 L349.3,573.2 L350.3,573.2 L351.3,573.2 L352.3,573.2 L353.3,573.2 L354.3,573.1 L355.3,573.1 L356.3,573.1 L357.3,573.1 L358.3,573.0 L359.3,572.9 L360.3,572.9 L361.3,572.7 L362.3,572.6 L363.3,572.4 L364.3,572.2 L365.3,571.9 L366.3,571.6 L367.3,571.2 L368.3,570.6 L369.3,570.0 L370.3,569.2 L371.3,568.3 L372.3,567.1 L373.3,565.8 L374.3,564.2 L375.3,562.4 L376.3,560.4 L377.3,558.1 L378.3,555.5 L379.3,552.7 L380.3,549.6 L381.3,546.3 L382.3,542.9 L383.3,539.3 L384.3,535.6 L385.3,531.9 L386.3,528.2 L387.3,524.6 L388.3,521.0 L389.3,517.6 L390.3,514.5 L391.3,511.5 L392.3,508.9 L393.3,506.5 L394.3,504.4 L395.3,502.7 L396.3,501.4 L397.3,500.4 L398.3,499.9 L399.3,499.8 L400.3,500.2 L401.3,501.0 L402.3,502.3 L403.3,504.1 L404.3,506.3 L405.3,509.0 L406.3,512.0 L407.3,515.5 L408.3,519.2 L409.3,523.1 L410.3,527.3 L411.3,531.5 L412.3,535.7 L413.3,539.8 L414.3,543.9 L415.3,547.7 L416.3,551.3 L417.3,554.6 L418.3,557.6 L419.3,560.2 L420.3,562.6 L421.3,564.6 L422.3,566.3 L423.3,567.8 L424.3,569.0 L425.3,569.9 L426.3,570.7 L427.3,571.3 L428.3,571.7 L429.3,572.0 L430.3,572.2 L431.3,572.2 L432.3,572.2 L433.3,572.1 L434.3,571.8 L435.3,571.5 L436.3,571.0 L437.3,570.4 L438.3,569.6 L439.3,568.6 L440.3,567.4 L441.3,565.9 L442.3,564.2 L443.3,562.1 L444.3,559.7 L445.3,557.0 L446.3,553.8 L447.3,550.3 L448.3,546.4 L449.3,542.0 L450.3,537.3 L451.3,532.1 L452.3,526.5 L453.3,520.5 L454.3,514.1 L455.3,507.3 L456.3,500.2 L457.3,492.7 L458.3,485.1 L459.3,477.2 L460.3,469.4 L461.3,461.6 L462.3,454.1 L463.3,447.1 L464.3,440.8 L465.3,435.4 L466.3,431.1 L467.3,428.2 L468.3,426.6 L469.3,426.7 L470.3,428.3 L471.3,431.5 L472.3,436.2 L473.3,442.3 L474.3,449.5 L475.3,457.6 L476.3,466.3 L477.3,475.3 L478.3,484.3 L479.3,493.1 L480.3,501.3 L481.3,508.9 L482.3,515.7 L483.3,521.6 L484.3,526.5 L485.3,530.5 L486.3,533.6 L487.3,535.8 L488.3,537.4 L489.3,538.4 L490.3,539.0 L491.3,539.3 L492.3,539.5 L493.3,539.6 L494.3,539.9 L495.3,540.2 L496.3,540.9 L497.3,541.7 L498.3,542.9 L499.3,544.4 L500.3,546.1 L501.3,548.0 L502.3,550.1 L503.3,552.2 L504.3,554.5 L505.3,556.7 L506.3,558.8 L507.3,560.9 L508.3,562.7 L509.3,564.5 L510.3,566.0 L511.3,567.3 L512.3,568.4 L513.3,569.3 L514.3,570.1 L515.3,570.6 L516.3,570.9 L517.3,571.0 L518.3,571.0 L519.3,570.7 L520.3,570.2 L521.3,569.5 L522.3,568.4 L523.3,567.0 L524.3,565.3 L525.3,563.1 L526.3,560.5 L527.3,557.5 L528.3,553.9 L529.3,549.9 L530.3,545.3 L531.3,540.4 L532.3,535.1 L533.3,529.5 L534.3,523.8 L535.3,518.1 L536.3,512.5 L537.3,507.2 L538.3,502.3 L539.3,497.9 L540.3,494.2 L541.3,491.3 L542.3,489.1 L543.3,487.7 L544.3,487.2 L545.3,487.3 L546.3,488.2 L547.3,489.6 L548.3,491.5 L549.3,493.8 L550.3,496.3 L551.3,498.9 L552.3,501.6 L553.3,504.3 L554.3,506.8 L555.3,509.2 L556.3,511.3 L557.3,513.2 L558.3,514.9 L559.3,516.3 L560.3,517.4 L561.3,518.3 L562.3,519.0 L563.3,519.6 L564.3,520.0 L565.3,520.3 L566.3,520.6 L567.3,520.8 L568.3,521.0 L569.3,521.2 L570.3,521.3 L571.3,521.5 L572.3,521.6 L573.3,521.8 L574.3,521.9 L575.3,521.9 L576.3,521.9 L577.3,521.9 L578.3,521.8 L579.3,521.7 L580.3,521.5 L581.3,521.3 L582.3,521.0 L583.3,520.6 L584.3,520.0 L585.3,519.4 L586.3,518.5 L587.3,517.5 L588.3,516.3 L589.3,514.9 L590.3,513.3 L591.3,511.5 L592.3,509.6 L593.3,507.7 L594.3,505.8 L595.3,504.1 L596.3,502.6 L597.3,501.3 L598.3,500.4 L599.3,499.8 L600.3,499.6 L601.3,499.7 L602.3,500.1 L603.3,500.7 L604.3,501.4 L605.3,501.9 L606.3,502.3 L607.3,502.4 L608.3,501.9 L609.3,500.9 L610.3,499.3 L611.3,497.0 L612.3,494.1 L613.3,490.5 L614.3,486.4 L615.3,481.9 L616.3,477.1 L617.3,472.3 L618.3,467.6 L619.3,463.2 L620.3,459.4 L621.3,456.2 L622.3,453.9 L623.3,452.7 L624.3,452.4 L625.3,453.4 L626.3,455.4 L627.3,458.6 L628.3,462.8 L629.3,468.0 L630.3,473.9 L631.3,480.5 L632.3,487.5 L633.3,494.8 L634.3,502.1 L635.3,509.4 L636.3,516.3 L637.3,522.9 L638.3,528.9 L639.3,534.4 L640.3,539.1 L641.3,543.0 L642.3,546.2 L643.3,548.7 L644.3,550.4 L645.3,551.4 L646.3,551.7 L647.3,551.3 L648.3,550.4 L649.3,549.0 L650.3,547.1 L651.3,544.8 L652.3,542.0 L653.3,538.8 L654.3,535.3 L655.3,531.3 L656.3,526.9 L657.3,522.1 L658.3,516.8 L659.3,511.0 L660.3,504.7 L661.3,497.9 L662.3,490.6 L663.3,482.8 L664.3,474.6 L665.3,466.0 L666.3,457.2 L667.3,448.3 L668.3,439.5 L669.3,430.9 L670.3,422.6 L671.3,414.9 L672.3,407.8 L673.3,401.4 L674.3,395.8 L675.3,391.1 L676.3,387.2 L677.3,384.2 L678.3,382.0 L679.3,380.6 L680.3,380.0 L681.3,380.0 L682.3,380.7 L683.3,382.0 L684.3,383.7 L685.3,385.8 L686.3,388.2 L687.3,390.8 L688.3,393.4 L689.3,396.0 L690.3,398.5 L691.3,400.7 L692.3,402.6 L693.3,404.3 L694.3,405.6 L695.3,406.7 L696.3,407.8 L697.3,408.8 L698.3,410.0 L699.3,411.6 L700.3,413.5 L701.3,416.1 L702.3,419.3 L703.3,423.2 L704.3,427.6 L705.3,432.7 L706.3,438.1 L707.3,443.9 L708.3,450.0 L709.3,456.0 L710.3,462.0 L711.3,467.9 L712.3,473.6 L713.3,479.0 L714.3,484.2 L715.3,489.2 L716.3,494.1 L717.3,498.7 L718.3,503.3 L719.3,507.7 L720.3,512.0 L721.3,516.1 L722.3,520.1 L723.3,523.7 L724.3,527.1 L725.3,529.9 L726.3,532.2 L727.3,534.0 L728.3,535.0 L729.3,535.3 L730.3,534.9 L731.3,533.9 L732.3,532.1 L733.3,529.8 L734.3,527.0 L735.3,523.8 L736.3,520.4 L737.3,516.8 L738.3,513.3 L739.3,510.0 L740.3,506.9 L741.3,504.2 L742.3,502.0 L743.3,500.2 L744.3,498.9 L745.3,498.1 L746.3,497.7 L747.3,497.8 L748.3,498.3 L749.3,499.1 L750.3,500.2 L751.3,501.5 L752.3,502.9 L753.3,504.5 L754.3,506.2 L755.3,508.0 L756.3,509.7 L757.3,511.5 L758.3,513.3 L759.3,515.0 L760.3,516.7 L761.3,518.3 L762.3,519.8 L763.3,521.1 L764.3,522.4 L765.3,523.5 L766.3,524.5 L767.3,525.5 L768.3,526.4 L769.3,527.4 L770.3,528.4 L771.3,529.4 L772.3,530.5 L773.3,531.7 L774.3,532.9 L775.3,534.2 L776.3,535.4 L777.3,536.6 L778.3,537.7 L779.3,538.6 L780.3,539.3 L781.3,539.8 L782.3,540.0 L783.3,540.0 L784.3,539.8 L785.3,539.3 L786.3,538.8 L787.3,538.2 L788.3,537.6 L789.3,537.2 L790.3,537.0 L791.3,537.0 L792.3,537.3 L793.3,538.0 L794.3,539.0 L795.3,540.3 L796.3,541.9 L797.3,543.7 L798.3,545.6 L799.3,547.7 L800.3,549.7 L801.3,551.6 L802.3,553.4 L803.3,555.0 L804.3,556.3 L805.3,557.2 L806.3,557.8 L807.3,558.1 L808.3,557.9 L809.3,557.4 L810.3,556.5 L811.3,555.3 L812.3,553.8 L813.3,552.1 L814.3,550.3 L815.3,548.5 L816.3,546.6 L817.3,544.9 L818.3,543.4 L819.3,542.1 L820.3,541.2 L821.3,540.6 L822.3,540.4 L823.3,540.6 L824.3,541.3 L825.3,542.2 L826.3,543.5 L827.3,545.0 L828.3,546.7 L829.3,548.4 L830.3,550.1 L831.3,551.7 L832.3,553.0 L833.3,554.1 L834.3,554.7 L835.3,555.0 L836.3,554.7 L837.3,554.0 L838.3,552.7 L839.3,550.9 L840.3,548.6 L841.3,545.9 L842.3,542.7 L843.3,539.2 L844.3,535.5 L845.3,531.7 L846.3,527.8 L847.3,524.1 L848.3,520.5 L849.3,517.4 L850.3,514.7 L851.3,512.5 L852.3,511.0 L853.3,510.1 L854.3,509.9 L855.3,510.3 L856.3,511.4 L857.3,513.0 L858.3,515.0 L859.3,517.3 L860.3,519.9 L861.3,522.5 L862.3,525.1 L863.3,527.6 L864.3,529.8 L865.3,531.7 L866.3,533.2 L867.3,534.4 L868.3,535.1 L869.3,535.5 L870.3,535.5 L871.3,535.3 L872.3,534.8 L873.3,534.2 L874.3,533.5 L875.3,532.8 L876.3,532.1 L877.3,531.5 L878.3,530.9 L879.3,530.3 L880.3,529.8 L881.3,529.3 L882.3,528.7 L883.3,528.0 L884.3,527.1 L885.3,526.1 L886.3,524.8 L887.3,523.4 L888.3,521.6 L889.3,519.7 L890.3,517.5 L891.3,515.2 L892.3,512.7 L893.3,510.1 L894.3,507.4 L895.3,504.6 L896.3,501.7 L897.3,498.7 L898.3,495.6 L899.3,492.2 L900.3,488.5 L901.3,484.5 L902.3,480.2 L903.3,475.4 L904.3,470.1 L905.3,464.4 L906.3,458.3 L907.3,451.9 L908.3,445.3 L909.3,438.5 L910.3,431.9 L911.3,425.5 L912.3,419.5 L913.3,414.1 L914.3,409.5 L915.3,405.8 L916.3,403.1 L917.3,401.5 L918.3,400.9 L919.3,401.3 L920.3,402.7 L921.3,404.9 L922.3,407.9 L923.3,411.4 L924.3,415.4 L925.3,419.7 L926.3,424.2 L927.3,428.7 L928.3,433.1 L929.3,437.3 L930.3,441.1 L931.3,444.5 L932.3,447.3 L933.3,449.5 L934.3,451.0 L935.3,451.8 L936.3,451.8 L937.3,450.9 L938.3,449.3 L939.3,446.9 L940.3,443.8 L941.3,440.0 L942.3,435.9 L943.3,431.4 L944.3,426.9 L945.3,422.4 L946.3,418.2 L947.3,414.5 L948.3,411.4 L949.3,409.1 L950.3,407.6 L951.3,407.1 L952.3,407.6 L953.3,409.0 L954.3,411.2 L955.3,414.3 L956.3,418.0 L957.3,422.4 L958.3,427.2 L959.3,432.3 L960.3,437.8 L961.3,443.4 L962.3,449.1 L963.3,454.9 L964.3,460.6 L965.3,466.3 L966.3,471.9 L967.3,477.4 L968.3,482.6 L969.3,487.6 L970.3,492.4 L971.3,496.9 L972.3,501.2 L973.3,505.1 L974.3,508.9 L975.3,512.4 L976.3,515.7 L977.3,519.0 L978.3,522.1 L979.3,525.2 L980.3,528.3 L981.3,531.4 L982.3,534.6 L983.3,537.7 L984.3,540.9 L985.3,544.1 L986.3,547.2 L987.3,550.3 L988.3,553.2 L989.3,555.9 L990.3,558.4 L991.3,560.7 L992.3,562.8 L993.3,564.7 L994.3,566.2 L995.3,567.6 L996.3,568.8 L997.3,569.7 L998.3,570.5 L999.3,571.1 L1000.3,571.6 L1001.3,572.0 L1002.3,572.3 L1003.3,572.5 L1004.3,572.7 L1005.3,572.8 L1006.3,572.9 L1007.3,573.0 L1008.3,573.0 L1009.3,573.1 L1010.3,573.1 L1011.3,573.1 L1012.3,573.2 L1013.3,573.2 L1014.3,573.2 L1015.3,573.2 L1016.3,573.2 L1017.3,573.2 L1018.3,573.2 L1019.3,573.2 L1020.3,573.2 L1021.3,573.2 L1022.3,573.2 L1023.3,573.2 L1024.3,573.2 L1025.3,573.2 L1026.3,573.2 L1027.3,573.2 L1028.3,573.2 L1029.3,573.2 L1030.3,573.2 L1031.3,573.2 L1032.3,573.2 L1033.3,573.2 L1034.3,573.2 L1035.3,573.2 L1036.3,573.2 L1037.3,573.2 L1038.3,573.2 L1039.3,573.2 L1040.3,573.2 L1041.3,573.2 L1042.3,573.2 L1043.3,573.2 L1044.3,573.1 L1045.3,573.1 L1046.3,573.1 L1047.3,573.0 L1048.3,573.0 L1049.3,572.9 L1050.3,572.7 L1051.3,572.6 L1052.3,572.3 L1053.3,572.1 L1054.3,571.7 L1055.3,571.2 L1056.3,570.7 L1057.3,570.0 L1058.3,569.2 L1059.3,568.2 L1060.3,567.1 L1061.3,565.7 L1062.3,564.1 L1063.3,562.2 L1064.3,560.0 L1065.3,557.4 L1066.3,554.5 L1067.3,551.1 L1068.3,547.1 L1069.3,542.5 L1070.3,537.3 L1071.3,531.3 L1072.3,524.4 L1073.3,516.7 L1074.3,508.1 L1075.3,498.5 L1076.3,488.1 L1077.3,476.8 L1078.3,464.8 L1079.3,452.2 L1080.3,439.3 L1081.3,426.3 L1082.3,413.5 L1083.3,401.1 L1084.3,389.6 L1085.3,379.2 L1086.3,370.2 L1087.3,362.9 L1088.3,357.4 L1089.3,353.9 L1090.3,352.5 L1091.3,353.2 L1092.3,355.9 L1093.3,360.6 L1094.3,367.1 L1095.3,375.1 L1096.3,384.4 L1097.3,394.8 L1098.3,405.9 L1099.3,417.4 L1100.3,428.9 L1101.3,440.3 L1102.3,451.2 L1103.3,461.3 L1104.3,470.3 L1105.3,478.2 L1106.3,484.7 L1107.3,489.7 L1108.3,493.2 L1109.3,495.0 L1110.3,495.3 L1111.3,494.0 L1112.3,491.4 L1113.3,487.6 L1114.3,482.8 L1115.3,477.2 L1116.3,471.2 L1117.3,465.0 L1118.3,459.0 L1119.3,453.4 L1120.3,448.6 L1121.3,444.7 L1122.3,442.0 L1123.3,440.6 L1124.3,440.6 L1125.3,441.8 L1126.3,444.3 L1127.3,447.9 L1128.3,452.4 L1129.3,457.5 L1130.3,462.9 L1131.3,468.3 L1132.3,473.5 L1133.3,478.2 L1134.3,482.2 L1135.3,485.2 L1136.3,487.2 L1137.3,488.1 L1138.3,487.8 L1139.3,486.4 L1140.3,484.0 L1141.3,480.7 L1142.3,476.6 L1143.3,471.8 L1144.3,466.5 L1145.3,460.8 L1146.3,454.9 L1147.3,448.8 L1148.3,442.7 L1149.3,436.6 L1150.3,430.5 L1151.3,424.5 L1152.3,418.6 L1153.3,412.7 L1154.3,407.0 L1155.3,401.4 L1156.3,395.9 L1157.3,390.6 L1158.3,385.5 L1159.3,380.7 L1160.3,376.3 L1161.3,372.6 L1162.3,369.4 L1163.3,367.1 L1164.3,365.7 L1165.3,365.2 L1166.3,365.7 L1167.3,367.3 L1168.3,369.8 L1169.3,373.1 L1170.3,377.1 L1171.3,381.6 L1172.3,386.3 L1173.3,391.2 L1174.3,395.9 L1175.3,400.2 L1176.3,404.1 L1177.3,407.5 L1178.3,410.4 L1179.3,412.6 L1180.3,414.5 L1181.3,416.0 L1182.3,417.4 L1183.3,418.8 L1184.3,420.4 L1185.3,422.2 L1186.3,424.6 L1187.3,427.4 L1188.3,430.8 L1189.3,434.8 L1190.3,439.3 L1191.3,444.3 L1192.3,449.6 L1193.3,455.2 L1194.3,460.9 L1195.3,466.8 L1196.3,472.6 L1197.3,478.3 L1198.3,484.0 L1199.3,489.5 L1200.3,494.9 L1201.3,500.1 L1202.3,505.2 L1203.3,510.3 L1204.3,515.2 L1205.3,520.1 L1206.3,524.9 L1207.3,529.6 L1208.3,534.1 L1209.3,538.5 L1210.3,542.7 L1211.3,546.7 L1212.3,550.4 L1213.3,553.8 L1214.3,556.9 L1215.3,559.6 L1216.3,562.0 L1217.3,564.1 L1218.3,565.9 L1219.3,567.4 L1220.3,568.7 L1221.3,569.7 L1222.3,570.5 L1223.3,571.1 L1224.3,571.6 L1225.3,572.0 L1226.3,572.3 L1227.3,572.5 L1228.3,572.7 L1228.3,573.2 L1227.3,573.2 L1226.3,573.2 L1225.3,573.2 L1224.3,573.2 L1223.3,573.1 L1222.3,573.1 L1221.3,573.1 L1220.3,573.0 L1219.3,572.9 L1218.3,572.8 L1217.3,572.7 L1216.3,572.5 L1215.3,572.2 L1214.3,571.9 L1213.3,571.5 L1212.3,570.9 L1211.3,570.2 L1210.3,569.4 L1209.3,568.3 L1208.3,567.1 L1207.3,565.5 L1206.3,563.7 L1205.3,561.6 L1204.3,559.2 L1203.3,556.4 L1202.3,553.3 L1201.3,549.8 L1200.3,546.0 L1199.3,542.0 L1198.3,537.7 L1197.3,533.2 L1196.3,528.6 L1195.3,523.9 L1194.3,519.2 L1193.3,514.6 L1192.3,510.1 L1191.3,505.9 L1190.3,501.8 L1189.3,498.1 L1188.3,494.7 L1187.3,491.5 L1186.3,488.6 L1185.3,485.8 L1184.3,483.0 L1183.3,480.3 L1182.3,477.4 L1181.3,474.3 L1180.3,470.8 L1179.3,467.0 L1178.3,462.7 L1177.3,457.9 L1176.3,452.8 L1175.3,447.2 L1174.3,441.4 L1173.3,435.4 L1172.3,429.4 L1171.3,423.6 L1170.3,418.1 L1169.3,413.1 L1168.3,408.6 L1167.3,404.9 L1166.3,402.0 L1165.3,399.9 L1164.3,398.6 L1163.3,398.2 L1162.3,398.7 L1161.3,399.9 L1160.3,401.8 L1159.3,404.3 L1158.3,407.4 L1157.3,411.0 L1156.3,414.9 L1155.3,419.2 L1154.3,423.6 L1153.3,428.2 L1152.3,432.9 L1151.3,437.7 L1150.3,442.4 L1149.3,445.9 L1148.3,449.3 L1147.3,453.0 L1146.3,457.2 L1145.3,461.8 L1144.3,466.6 L1143.3,471.8 L1142.3,476.6 L1141.3,480.7 L1140.3,484.0 L1139.3,486.4 L1138.3,487.8 L1137.3,488.1 L1136.3,487.2 L1135.3,485.2 L1134.3,482.2 L1133.3,478.2 L1132.3,473.5 L1131.3,468.3 L1130.3,462.9 L1129.3,457.5 L1128.3,452.4 L1127.3,447.9 L1126.3,444.3 L1125.3,441.8 L1124.3,440.6 L1123.3,440.6 L1122.3,442.0 L1121.3,444.7 L1120.3,448.6 L1119.3,453.4 L1118.3,459.0 L1117.3,465.0 L1116.3,471.2 L1115.3,477.3 L1114.3,483.5 L1113.3,490.3 L1112.3,497.7 L1111.3,505.9 L1110.3,514.9 L1109.3,522.1 L1108.3,527.2 L1107.3,530.9 L1106.3,532.9 L1105.3,533.1 L1104.3,531.6 L1103.3,528.4 L1102.3,523.9 L1101.3,518.4 L1100.3,512.0 L1099.3,505.0 L1098.3,497.4 L1097.3,489.5 L1096.3,481.2 L1095.3,472.8 L1094.3,464.4 L1093.3,456.4 L1092.3,449.0 L1091.3,442.2 L1090.3,436.5 L1089.3,431.9 L1088.3,428.7 L1087.3,426.8 L1086.3,426.4 L1085.3,427.6 L1084.3,430.2 L1083.3,430.3 L1082.3,432.1 L1081.3,437.0 L1080.3,444.6 L1079.3,454.1 L1078.3,465.0 L1077.3,476.8 L1076.3,488.1 L1075.3,498.5 L1074.3,508.1 L1073.3,516.7 L1072.3,524.4 L1071.3,531.3 L1070.3,537.3 L1069.3,542.5 L1068.3,547.1 L1067.3,551.1 L1066.3,554.5 L1065.3,557.4 L1064.3,560.0 L1063.3,562.2 L1062.3,564.1 L1061.3,565.7 L1060.3,567.1 L1059.3,568.2 L1058.3,569.2 L1057.3,570.0 L1056.3,570.7 L1055.3,571.2 L1054.3,571.7 L1053.3,572.1 L1052.3,572.3 L1051.3,572.6 L1050.3,572.7 L1049.3,572.9 L1048.3,573.0 L1047.3,573.0 L1046.3,573.1 L1045.3,573.1 L1044.3,573.1 L1043.3,573.2 L1042.3,573.2 L1041.3,573.2 L1040.3,573.2 L1039.3,573.2 L1038.3,573.2 L1037.3,573.2 L1036.3,573.2 L1035.3,573.2 L1034.3,573.2 L1033.3,573.2 L1032.3,573.2 L1031.3,573.2 L1030.3,573.2 L1029.3,573.2 L1028.3,573.2 L1027.3,573.2 L1026.3,573.2 L1025.3,573.2 L1024.3,573.2 L1023.3,573.2 L1022.3,573.2 L1021.3,573.2 L1020.3,573.2 L1019.3,573.2 L1018.3,573.2 L1017.3,573.2 L1016.3,573.2 L1015.3,573.2 L1014.3,573.2 L1013.3,573.2 L1012.3,573.2 L1011.3,573.1 L1010.3,573.1 L1009.3,573.1 L1008.3,573.0 L1007.3,573.0 L1006.3,572.9 L1005.3,572.8 L1004.3,572.7 L1003.3,572.5 L1002.3,572.4 L1001.3,572.3 L1000.3,572.3 L999.3,572.4 L998.3,572.5 L997.3,572.9 L996.3,573.0 L995.3,572.9 L994.3,572.8 L993.3,572.6 L992.3,572.4 L991.3,572.1 L990.3,571.8 L989.3,571.4 L988.3,570.8 L987.3,570.1 L986.3,569.3 L985.3,568.3 L984.3,567.1 L983.3,565.6 L982.3,563.9 L981.3,561.9 L980.3,559.6 L979.3,557.0 L978.3,554.0 L977.3,550.8 L976.3,547.2 L975.3,543.4 L974.3,539.3 L973.3,535.0 L972.3,530.7 L971.3,526.2 L970.3,521.8 L969.3,517.5 L968.3,513.4 L967.3,509.6 L966.3,506.2 L965.3,503.2 L964.3,500.6 L963.3,498.6 L962.3,497.1 L961.3,496.2 L960.3,495.7 L959.3,495.9 L958.3,496.5 L957.3,497.5 L956.3,499.0 L955.3,500.9 L954.3,503.2 L953.3,505.8 L952.3,508.6 L951.3,511.7 L950.3,514.9 L949.3,518.2 L948.3,521.5 L947.3,524.6 L946.3,527.6 L945.3,530.3 L944.3,532.5 L943.3,534.3 L942.3,535.4 L941.3,535.8 L940.3,535.5 L939.3,534.4 L938.3,532.5 L937.3,529.8 L936.3,526.3 L935.3,522.2 L934.3,517.4 L933.3,512.0 L932.3,506.1 L931.3,499.8 L930.3,493.3 L929.3,486.5 L928.3,479.5 L927.3,472.5 L926.3,465.4 L925.3,458.5 L924.3,451.7 L923.3,445.2 L922.3,439.1 L921.3,433.5 L920.3,428.5 L919.3,424.3 L918.3,421.0 L917.3,418.8 L916.3,417.7 L915.3,417.8 L914.3,419.0 L913.3,421.4 L912.3,424.8 L911.3,429.2 L910.3,434.4 L909.3,440.1 L908.3,446.1 L907.3,452.3 L906.3,458.6 L905.3,464.6 L904.3,470.2 L903.3,475.4 L902.3,480.2 L901.3,484.5 L900.3,488.5 L899.3,492.2 L898.3,495.6 L897.3,498.7 L896.3,501.7 L895.3,504.6 L894.3,507.4 L893.3,510.1 L892.3,512.7 L891.3,515.2 L890.3,517.5 L889.3,519.7 L888.3,521.6 L887.3,523.4 L886.3,524.8 L885.3,526.1 L884.3,527.1 L883.3,528.0 L882.3,528.7 L881.3,529.3 L880.3,529.8 L879.3,530.3 L878.3,530.9 L877.3,531.5 L876.3,532.1 L875.3,532.8 L874.3,533.7 L873.3,534.7 L872.3,535.8 L871.3,536.9 L870.3,538.1 L869.3,539.3 L868.3,540.0 L867.3,540.2 L866.3,540.3 L865.3,540.1 L864.3,539.7 L863.3,539.2 L862.3,538.7 L861.3,538.2 L860.3,537.7 L859.3,537.5 L858.3,537.5 L857.3,537.7 L856.3,538.4 L855.3,539.3 L854.3,540.6 L853.3,542.1 L852.3,544.0 L851.3,546.0 L850.3,548.1 L849.3,550.3 L848.3,552.4 L847.3,554.5 L846.3,556.3 L845.3,558.0 L844.3,559.3 L843.3,560.4 L842.3,561.1 L841.3,561.5 L840.3,561.6 L839.3,561.3 L838.3,560.8 L837.3,559.2 L836.3,557.7 L835.3,556.4 L834.3,555.2 L833.3,554.1 L832.3,553.0 L831.3,551.7 L830.3,550.1 L829.3,548.4 L828.3,546.7 L827.3,545.0 L826.3,543.5 L825.3,542.2 L824.3,541.3 L823.3,540.6 L822.3,540.4 L821.3,540.6 L820.3,541.2 L819.3,542.1 L818.3,543.4 L817.3,544.9 L816.3,546.6 L815.3,548.5 L814.3,550.3 L813.3,552.1 L812.3,553.8 L811.3,555.3 L810.3,556.5 L809.3,557.4 L808.3,558.0 L807.3,558.7 L806.3,559.6 L805.3,560.9 L804.3,562.8 L803.3,565.2 L802.3,566.9 L801.3,567.8 L800.3,568.7 L799.3,569.4 L798.3,570.0 L797.3,570.5 L796.3,570.9 L795.3,571.1 L794.3,571.2 L793.3,571.1 L792.3,571.0 L791.3,570.6 L790.3,570.1 L789.3,569.4 L788.3,568.6 L787.3,567.5 L786.3,566.2 L785.3,564.7 L784.3,562.9 L783.3,561.0 L782.3,558.9 L781.3,556.6 L780.3,554.2 L779.3,551.7 L778.3,549.1 L777.3,546.6 L776.3,544.1 L775.3,541.7 L774.3,538.6 L773.3,535.7 L772.3,533.1 L771.3,530.9 L770.3,529.1 L769.3,527.5 L768.3,526.4 L767.3,525.5 L766.3,524.5 L765.3,523.5 L764.3,522.4 L763.3,521.1 L762.3,519.8 L761.3,518.3 L760.3,516.7 L759.3,515.0 L758.3,513.3 L757.3,511.5 L756.3,509.7 L755.3,508.0 L754.3,506.2 L753.3,504.5 L752.3,502.9 L751.3,501.5 L750.3,500.2 L749.3,499.1 L748.3,498.3 L747.3,497.8 L746.3,497.7 L745.3,498.1 L744.3,498.9 L743.3,500.2 L742.3,502.0 L741.3,504.2 L740.3,506.9 L739.3,510.0 L738.3,513.3 L737.3,516.8 L736.3,520.4 L735.3,523.8 L734.3,527.0 L733.3,530.3 L732.3,534.0 L731.3,538.0 L730.3,542.5 L729.3,547.5 L728.3,553.3 L727.3,557.3 L726.3,560.0 L725.3,562.4 L724.3,564.4 L723.3,566.1 L722.3,567.4 L721.3,568.6 L720.3,569.4 L719.3,570.0 L718.3,570.4 L717.3,570.6 L716.3,570.6 L715.3,570.4 L714.3,570.0 L713.3,569.5 L712.3,568.7 L711.3,567.7 L710.3,566.5 L709.3,565.1 L708.3,563.4 L707.3,561.6 L706.3,559.6 L705.3,557.3 L704.3,555.0 L703.3,552.5 L702.3,549.9 L701.3,547.3 L700.3,544.6 L699.3,542.0 L698.3,539.4 L697.3,536.8 L696.3,534.3 L695.3,531.8 L694.3,529.4 L693.3,526.9 L692.3,524.4 L691.3,521.8 L690.3,519.0 L689.3,516.1 L688.3,513.0 L687.3,509.6 L686.3,506.0 L685.3,502.2 L684.3,498.2 L683.3,494.0 L682.3,489.8 L681.3,485.6 L680.3,481.6 L679.3,477.8 L678.3,474.4 L677.3,471.5 L676.3,469.3 L675.3,467.7 L674.3,466.8 L673.3,466.7 L672.3,467.3 L671.3,468.7 L670.3,470.7 L669.3,473.3 L668.3,476.4 L667.3,479.9 L666.3,483.7 L665.3,487.7 L664.3,491.9 L663.3,496.1 L662.3,499.2 L661.3,502.8 L660.3,507.1 L659.3,511.9 L658.3,517.0 L657.3,522.1 L656.3,526.9 L655.3,531.3 L654.3,535.3 L653.3,538.8 L652.3,542.0 L651.3,544.8 L650.3,547.1 L649.3,549.0 L648.3,550.4 L647.3,551.3 L646.3,551.7 L645.3,551.4 L644.3,550.4 L643.3,548.7 L642.3,546.2 L641.3,543.0 L640.3,539.1 L639.3,534.4 L638.3,528.9 L637.3,522.9 L636.3,516.3 L635.3,509.4 L634.3,502.1 L633.3,494.8 L632.3,487.5 L631.3,480.5 L630.3,473.9 L629.3,468.0 L628.3,462.8 L627.3,458.6 L626.3,455.4 L625.3,453.4 L624.3,452.4 L623.3,452.7 L622.3,453.9 L621.3,456.2 L620.3,459.4 L619.3,463.2 L618.3,467.6 L617.3,472.3 L616.3,477.1 L615.3,481.9 L614.3,486.4 L613.3,490.5 L612.3,494.1 L611.3,497.0 L610.3,499.3 L609.3,500.9 L608.3,501.9 L607.3,502.4 L606.3,502.3 L605.3,501.9 L604.3,501.4 L603.3,500.7 L602.3,500.1 L601.3,499.7 L600.3,499.6 L599.3,499.8 L598.3,500.4 L597.3,501.6 L596.3,503.6 L595.3,506.5 L594.3,510.3 L593.3,515.1 L592.3,520.9 L591.3,526.1 L590.3,530.7 L589.3,535.1 L588.3,539.4 L587.3,543.2 L586.3,546.7 L585.3,549.6 L584.3,551.9 L583.3,553.7 L582.3,554.8 L581.3,555.3 L580.3,555.3 L579.3,554.7 L578.3,553.7 L577.3,552.2 L576.3,550.5 L575.3,548.4 L574.3,546.2 L573.3,543.9 L572.3,541.5 L571.3,539.2 L570.3,537.0 L569.3,534.9 L568.3,532.9 L567.3,531.0 L566.3,529.3 L565.3,527.8 L564.3,526.3 L563.3,524.9 L562.3,523.5 L561.3,522.3 L560.3,521.0 L559.3,519.8 L558.3,518.6 L557.3,517.5 L556.3,516.4 L555.3,515.5 L554.3,514.7 L553.3,514.1 L552.3,513.6 L551.3,513.4 L550.3,513.4 L549.3,513.6 L548.3,514.0 L547.3,514.7 L546.3,515.7 L545.3,516.9 L544.3,518.4 L543.3,520.1 L542.3,522.1 L541.3,524.3 L540.3,526.8 L539.3,529.5 L538.3,532.4 L537.3,535.4 L536.3,538.6 L535.3,541.8 L534.3,545.0 L533.3,548.1 L532.3,551.1 L531.3,554.0 L530.3,556.7 L529.3,559.2 L528.3,561.4 L527.3,562.7 L526.3,563.9 L525.3,565.1 L524.3,566.3 L523.3,567.5 L522.3,568.5 L521.3,569.5 L520.3,570.2 L519.3,570.7 L518.3,571.0 L517.3,571.0 L516.3,570.9 L515.3,570.6 L514.3,570.1 L513.3,569.3 L512.3,568.4 L511.3,567.3 L510.3,566.0 L509.3,564.5 L508.3,562.7 L507.3,560.9 L506.3,558.8 L505.3,556.7 L504.3,554.5 L503.3,552.2 L502.3,550.1 L501.3,548.0 L500.3,546.1 L499.3,544.4 L498.3,542.9 L497.3,541.7 L496.3,540.9 L495.3,540.2 L494.3,539.9 L493.3,539.6 L492.3,539.5 L491.3,539.8 L490.3,540.5 L489.3,541.7 L488.3,543.3 L487.3,545.6 L486.3,548.5 L485.3,550.1 L484.3,550.7 L483.3,550.8 L482.3,550.6 L481.3,550.0 L480.3,549.0 L479.3,547.6 L478.3,545.9 L477.3,543.9 L476.3,541.7 L475.3,539.4 L474.3,537.1 L473.3,534.8 L472.3,532.5 L471.3,530.4 L470.3,528.5 L469.3,526.8 L468.3,525.3 L467.3,524.1 L466.3,523.2 L465.3,522.6 L464.3,522.2 L463.3,522.1 L462.3,522.3 L461.3,522.7 L460.3,523.5 L459.3,524.5 L458.3,525.8 L457.3,527.4 L456.3,529.2 L455.3,531.3 L454.3,533.7 L453.3,536.2 L452.3,538.9 L451.3,541.7 L450.3,544.5 L449.3,547.4 L448.3,550.1 L447.3,552.4 L446.3,554.9 L445.3,557.4 L444.3,559.9 L443.3,562.1 L442.3,564.2 L441.3,565.9 L440.3,567.4 L439.3,568.6 L438.3,569.6 L437.3,570.4 L436.3,571.0 L435.3,571.5 L434.3,571.8 L433.3,572.1 L432.3,572.2 L431.3,572.3 L430.3,572.4 L429.3,572.5 L428.3,572.7 L427.3,572.9 L426.3,573.1 L425.3,573.1 L424.3,573.1 L423.3,573.2 L422.3,573.2 L421.3,573.2 L420.3,573.2 L419.3,573.2 L418.3,573.2 L417.3,573.2 L416.3,573.2 L415.3,573.2 L414.3,573.2 L413.3,573.2 L412.3,573.2 L411.3,573.2 L410.3,573.2 L409.3,573.2 L408.3,573.2 L407.3,573.2 L406.3,573.2 L405.3,573.2 L404.3,573.2 L403.3,573.2 L402.3,573.2 L401.3,573.2 L400.3,573.2 L399.3,573.2 L398.3,573.2 L397.3,573.2 L396.3,573.2 L395.3,573.2 L394.3,573.2 L393.3,573.2 L392.3,573.2 L391.3,573.2 L390.3,573.2 L389.3,573.2 L388.3,573.2 L387.3,573.2 L386.3,573.2 L385.3,573.2 L384.3,573.2 L383.3,573.2 L382.3,573.2 L381.3,573.2 L380.3,573.2 L379.3,573.2 L378.3,573.2 L377.3,573.2 L376.3,573.2 L375.3,573.2 L374.3,573.2 L373.3,573.2 L372.3,573.2 L371.3,573.2 L370.3,573.2 L369.3,573.2 L368.3,573.2 L367.3,573.2 L366.3,573.2 L365.3,573.2 L364.3,573.2 L363.3,573.2 L362.3,573.2 L361.3,573.2 L360.3,573.2 L359.3,573.2 L358.3,573.2 L357.3,573.2 L356.3,573.2 L355.3,573.2 L354.3,573.2 L353.3,573.2 L352.3,573.2 L351.3,573.2 L350.3,573.2 L349.3,573.2 L348.3,573.2 L347.3,573.2 L346.3,573.2 L345.3,573.2 L344.3,573.2 L343.3,573.2 L342.3,573.2 L341.3,573.2 L340.3,573.2 L339.3,573.2 L338.3,573.2 L337.3,573.2 L336.3,573.2 L335.3,573.2 L334.3,573.2 L333.3,573.2 L332.3,573.2 L331.3,573.2 L330.3,573.2 L329.3,573.2 L328.3,573.2 L327.3,573.2 L326.3,573.2 L325.3,573.2 L324.3,573.2 L323.3,573.2 L322.3,573.2 L321.3,573.2 L320.3,573.2 L319.3,573.2 L318.3,573.2 L317.3,573.2 L316.3,573.2 L315.3,573.2 L314.3,573.2 L313.3,573.2 L312.3,573.2 L311.3,573.2 L310.3,573.2 L309.3,573.2 L308.3,573.2 L307.3,573.2 L306.3,573.2 L305.3,573.2 L304.3,573.2 L303.3,573.2 L302.3,573.2 L301.3,573.2 L300.3,573.2 L299.3,573.2 L298.3,573.2 L297.3,573.2 L296.3,573.2 L295.3,573.2 L294.3,573.2 L293.3,573.2 L292.3,573.2 L291.3,573.2 L290.3,573.2 L289.3,573.2 L288.3,573.2 L287.3,573.2 L286.3,573.2 L285.3,573.2 L284.3,573.2 L283.3,573.2 L282.3,573.2 L281.3,573.2 L280.3,573.2 L279.3,573.2 L278.3,573.2 L277.3,573.2 L276.3,573.2 L275.3,573.2 L274.3,573.2 L273.3,573.2 L272.3,573.2 L271.3,573.2 L270.3,573.2 L269.3,573.2 L268.3,573.2 L267.3,573.2 L266.3,573.2 L265.3,573.2 L264.3,573.2 L263.3,573.2 L262.3,573.2 L261.3,573.2 L260.3,573.2 L259.3,573.2 L258.3,573.2 L257.3,573.2 L256.3,573.2 L255.3,573.2 L254.3,573.2 L253.3,573.2 L252.3,573.2 L251.3,573.2 L250.3,573.2 L249.3,573.2 L248.3,573.2 L247.3,573.2 L246.3,573.2 L245.3,573.2 L244.3,573.2 L243.3,573.2 L242.3,573.2 L241.3,573.2 L240.3,573.2 L239.3,573.2 L238.3,573.2 L237.3,573.2 L236.3,573.2 L235.3,573.2 L234.3,573.2 L233.3,573.2 L232.3,573.2 L231.3,573.2 L230.3,573.2 L229.3,573.2 L228.3,573.2 L227.3,573.2 L226.3,573.2 L225.3,573.2 L224.3,573.2 L223.3,573.2 L222.3,573.2 L221.3,573.2 L220.3,573.2 L219.3,573.2 L218.3,573.2 L217.3,573.2 L216.3,573.2 L215.3,573.2 L214.3,573.2 L213.3,573.2 L212.3,573.2 L211.3,573.2 L210.3,573.2 L209.3,573.2 L208.3,573.2 L207.3,573.2 L206.3,573.2 L205.3,573.2 L204.3,573.2 L203.3,573.2 L202.3,573.2 L201.3,573.2 L200.3,573.2 L199.3,573.2 L198.3,573.2 L197.3,573.2 L196.3,573.2 L195.3,573.2 L194.3,573.2 L193.3,573.1 L192.3,573.1 L191.3,573.1 L190.3,573.1 L189.3,573.1 L188.3,573.1 L187.3,573.1 L186.3,573.0 L185.3,573.0 L184.3,573.0 L183.3,572.9 L182.3,572.8 L181.3,572.6 L180.3,572.5 L179.3,572.2 L178.3,571.9 L177.3,571.4 L176.3,570.9 L175.3,570.2 L174.3,569.4 L173.3,568.3 L172.3,567.1 L171.3,565.7 L170.3,564.1 L169.3,562.3 L168.3,560.3 L167.3,558.1 L166.3,555.8 L165.3,553.5 L164.3,551.1 L163.3,548.6 L162.3,545.1 L161.3,542.4 L160.3,540.5 L159.3,539.2 L158.3,538.6 L157.3,538.6 L156.3,539.1 L155.3,539.9 L154.3,541.0 L153.3,542.3 L152.3,543.9 L151.3,545.7 L150.3,547.6 L149.3,549.6 L148.3,551.7 L147.3,553.8 L146.3,555.8 L145.3,557.7 L144.3,559.4 L143.3,561.0 L142.3,562.3 L141.3,563.4 L140.3,564.3 L139.3,565.1 L138.3,565.6 L137.3,566.0 L136.3,566.3 L135.3,566.4 L134.3,565.7 L133.3,564.7 L132.3,563.4 L131.3,561.9 L130.3,560.1 L129.3,558.1 L128.3,555.9 L127.3,553.6 L126.3,551.3 L125.3,549.0 L124.3,546.9 L123.3,544.9 L122.3,543.1 L121.3,541.8 L120.3,540.7 L119.3,540.2 L118.3,540.0 L117.3,540.3 L116.3,541.1 L115.3,542.2 L114.3,543.7 L113.3,545.6 L112.3,547.6 L111.3,549.8 L110.3,552.1 L109.3,554.4 L108.3,556.7 L107.3,558.9 L106.3,560.9 L105.3,562.8 L104.3,564.5 L103.3,566.0 L102.3,567.3 L101.3,568.5 L100.3,569.4 L99.3,570.2 L98.3,570.9 L97.3,571.4 L96.3,571.9 L95.3,572.2 L94.3,572.5 L93.3,572.6 L92.3,572.8 L91.3,572.9 L90.3,573.0Z" fill="#80a3fa" stroke="none"/>
<path d="M90.3,572.9 L91.3,572.7 L92.3,572.5 L93.3,572.3 L94.3,571.9 L95.3,571.5 L96.3,570.9 L97.3,570.1 L98.3,569.2 L99.3,567.9 L100.3,566.5 L101.3,564.7 L102.3,562.5 L103.3,560.0 L104.3,557.1 L105.3,553.8 L106.3,550.1 L107.3,546.1 L108.3,541.8 L109.3,537.2 L110.3,532.6 L111.3,528.0 L112.3,523.5 L113.3,519.3 L114.3,515.6 L115.3,512.4 L116.3,509.9 L117.3,508.3 L118.3,507.5 L119.3,507.6 L120.3,508.6 L121.3,510.5 L122.3,513.2 L123.3,516.6 L124.3,520.5 L125.3,524.8 L126.3,529.4 L127.3,534.0 L128.3,538.6 L129.3,543.1 L130.3,547.3 L131.3,551.1 L132.3,554.4 L133.3,557.3 L134.3,559.7 L135.3,561.6 L136.3,563.0 L137.3,563.9 L138.3,564.4 L139.3,564.4 L140.3,564.0 L141.3,563.3 L142.3,562.3 L143.3,561.0 L144.3,559.4 L145.3,557.7 L146.3,555.8 L147.3,553.8 L148.3,551.7 L149.3,549.6 L150.3,547.6 L151.3,545.7 L152.3,543.9 L153.3,542.3 L154.3,541.0 L155.3,539.9 L156.3,539.1 L157.3,538.6 L158.3,538.3 L159.3,538.1 L160.3,538.2 L161.3,538.2 L162.3,538.3 L163.3,538.2 L164.3,538.0 L165.3,537.6 L166.3,536.8 L167.3,535.7 L168.3,534.2 L169.3,532.3 L170.3,530.0 L171.3,527.3 L172.3,524.5 L173.3,521.4 L174.3,518.3 L175.3,515.3 L176.3,512.5 L177.3,510.0 L178.3,508.0 L179.3,506.6 L180.3,505.9 L181.3,505.9 L182.3,506.8 L183.3,508.4 L184.3,510.7 L185.3,513.7 L186.3,517.3 L187.3,521.3 L188.3,525.6 L189.3,530.2 L190.3,534.8 L191.3,539.3 L192.3,543.7 L193.3,547.8 L194.3,551.6 L195.3,555.1 L196.3,558.2 L197.3,560.9 L198.3,563.3 L199.3,565.2 L200.3,566.9 L201.3,568.3 L202.3,569.4 L203.3,570.3 L204.3,571.0 L205.3,571.5 L206.3,571.9 L207.3,572.3 L208.3,572.5 L209.3,572.7 L210.3,572.8 L211.3,572.9 L212.3,573.0 L213.3,573.1 L214.3,573.1 L215.3,573.1 L216.3,573.2 L217.3,573.2 L218.3,573.2 L219.3,573.2 L220.3,573.2 L221.3,573.2 L222.3,573.2 L223.3,573.2 L224.3,573.2 L225.3,573.2 L226.3,573.2 L227.3,573.2 L228.3,573.2 L229.3,573.2 L230.3,573.2 L231.3,573.2 L232.3,573.2 L233.3,573.2 L234.3,573.2 L235.3,573.2 L236.3,573.2 L237.3,573.2 L238.3,573.2 L239.3,573.2 L240.3,573.2 L241.3,573.2 L242.3,573.2 L243.3,573.2 L244.3,573.2 L245.3,573.2 L246.3,573.2 L247.3,573.2 L248.3,573.2 L249.3,573.2 L250.3,573.2 L251.3,573.2 L252.3,573.2 L253.3,573.2 L254.3,573.2 L255.3,573.2 L256.3,573.2 L257.3,573.2 L258.3,573.2 L259.3,573.2 L260.3,573.2 L261.3,573.2 L262.3,573.2 L263.3,573.2 L264.3,573.2 L265.3,573.2 L266.3,573.2 L267.3,573.2 L268.3,573.2 L269.3,573.2 L270.3,573.2 L271.3,573.2 L272.3,573.2 L273.3,573.2 L274.3,573.2 L275.3,573.2 L276.3,573.2 L277.3,573.2 L278.3,573.2 L279.3,573.2 L280.3,573.2 L281.3,573.2 L282.3,573.2 L283.3,573.2 L284.3,573.2 L285.3,573.2 L286.3,573.2 L287.3,573.2 L288.3,573.2 L289.3,573.2 L290.3,573.2 L291.3,573.2 L292.3,573.2 L293.3,573.2 L294.3,573.2 L295.3,573.2 L296.3,573.2 L297.3,573.2 L298.3,573.2 L299.3,573.2 L300.3,573.2 L301.3,573.2 L302.3,573.2 L303.3,573.2 L304.3,573.2 L305.3,573.2 L306.3,573.2 L307.3,573.2 L308.3,573.2 L309.3,573.2 L310.3,573.2 L311.3,573.2 L312.3,573.2 L313.3,573.2 L314.3,573.2 L315.3,573.2 L316.3,573.2 L317.3,573.2 L318.3,573.2 L319.3,573.2 L320.3,573.2 L321.3,573.2 L322.3,573.2 L323.3,573.2 L324.3,573.2 L325.3,573.2 L326.3,573.2 L327.3,573.2 L328.3,573.2 L329.3,573.2 L330.3,573.2 L331.3,573.2 L332.3,573.2 L333.3,573.2 L334.3,573.2 L335.3,573.2 L336.3,573.2 L337.3,573.2 L338.3,573.2 L339.3,573.2 L340.3,573.2 L341.3,573.2 L342.3,573.2 L343.3,573.2 L344.3,573.2 L345.3,573.2 L346.3,573.2 L347.3,573.2 L348.3,573.2 L349.3,573.2 L350.3,573.2 L351.3,573.2 L352.3,573.2 L353.3,573.2 L354.3,573.1 L355.3,573.1 L356.3,573.1 L357.3,573.1 L358.3,573.0 L359.3,572.9 L360.3,572.9 L361.3,572.7 L362.3,572.6 L363.3,572.4 L364.3,572.2 L365.3,571.9 L366.3,571.6 L367.3,571.2 L368.3,570.6 L369.3,570.0 L370.3,569.2 L371.3,568.3 L372.3,567.1 L373.3,565.8 L374.3,564.2 L375.3,562.4 L376.3,560.4 L377.3,558.1 L378.3,555.5 L379.3,552.7 L380.3,549.6 L381.3,546.3 L382.3,542.9 L383.3,539.3 L384.3,535.6 L385.3,531.9 L386.3,528.2 L387.3,524.6 L388.3,521.0 L389.3,517.6 L390.3,514.5 L391.3,511.5 L392.3,508.9 L393.3,506.5 L394.3,504.4 L395.3,502.7 L396.3,501.4 L397.3,500.4 L398.3,499.9 L399.3,499.8 L400.3,500.2 L401.3,501.0 L402.3,502.3 L403.3,504.1 L404.3,506.3 L405.3,509.0 L406.3,512.0 L407.3,515.5 L408.3,519.2 L409.3,523.1 L410.3,527.3 L411.3,531.5 L412.3,535.7 L413.3,539.8 L414.3,543.9 L415.3,547.7 L416.3,551.3 L417.3,554.6 L418.3,557.6 L419.3,560.2 L420.3,562.6 L421.3,564.6 L422.3,566.3 L423.3,567.8 L424.3,569.0 L425.3,569.9 L426.3,570.7 L427.3,571.3 L428.3,571.7 L429.3,572.0 L430.3,572.2 L431.3,572.2 L432.3,572.2 L433.3,572.1 L434.3,571.8 L435.3,571.5 L436.3,571.0 L437.3,570.4 L438.3,569.6 L439.3,568.6 L440.3,567.4 L441.3,565.9 L442.3,564.2 L443.3,562.1 L444.3,559.7 L445.3,557.0 L446.3,553.8 L447.3,550.3 L448.3,546.4 L449.3,542.0 L450.3,537.3 L451.3,532.1 L452.3,526.5 L453.3,520.5 L454.3,514.1 L455.3,507.3 L456.3,500.2 L457.3,492.7 L458.3,485.1 L459.3,477.2 L460.3,469.4 L461.3,461.6 L462.3,454.1 L463.3,447.1 L464.3,440.8 L465.3,435.4 L466.3,431.1 L467.3,428.2 L468.3,426.6 L469.3,426.7 L470.3,428.3 L471.3,431.5 L472.3,436.2 L473.3,442.3 L474.3,449.5 L475.3,457.6 L476.3,466.3 L477.3,475.3 L478.3,484.3 L479.3,493.1 L480.3,501.3 L481.3,508.9 L482.3,515.7 L483.3,521.6 L484.3,526.5 L485.3,530.5 L486.3,533.6 L487.3,535.8 L488.3,537.4 L489.3,538.4 L490.3,539.0 L491.3,539.3 L492.3,539.5 L493.3,539.6 L494.3,539.9 L495.3,540.2 L496.3,540.9 L497.3,541.7 L498.3,542.9 L499.3,544.4 L500.3,546.1 L501.3,548.0 L502.3,550.1 L503.3,552.2 L504.3,554.5 L505.3,556.7 L506.3,558.8 L507.3,560.9 L508.3,562.7 L509.3,564.5 L510.3,566.0 L511.3,567.3 L512.3,568.4 L513.3,569.3 L514.3,570.1 L515.3,570.6 L516.3,570.9 L517.3,571.0 L518.3,571.0 L519.3,570.7 L520.3,570.2 L521.3,569.5 L522.3,568.4 L523.3,567.0 L524.3,565.3 L525.3,563.1 L526.3,560.5 L527.3,557.5 L528.3,553.9 L529.3,549.9 L530.3,545.3 L531.3,540.4 L532.3,535.1 L533.3,529.5 L534.3,523.8 L535.3,518.1 L536.3,512.5 L537.3,507.2 L538.3,502.3 L539.3,497.9 L540.3,494.2 L541.3,491.3 L542.3,489.1 L543.3,487.7 L544.3,487.2 L545.3,487.3 L546.3,488.2 L547.3,489.6 L548.3,491.5 L549.3,493.8 L550.3,496.3 L551.3,498.9 L552.3,501.6 L553.3,504.3 L554.3,506.8 L555.3,509.2 L556.3,511.3 L557.3,513.2 L558.3,514.9 L559.3,516.3 L560.3,517.4 L561.3,518.3 L562.3,519.0 L563.3,519.6 L564.3,520.0 L565.3,520.3 L566.3,520.6 L567.3,520.8 L568.3,521.0 L569.3,521.2 L570.3,521.3 L571.3,521.5 L572.3,521.6 L573.3,521.8 L574.3,521.9 L575.3,521.9 L576.3,521.9 L577.3,521.9 L578.3,521.8 L579.3,521.7 L580.3,521.5 L581.3,521.3 L582.3,521.0 L583.3,520.6 L584.3,520.0 L585.3,519.4 L586.3,518.5 L587.3,517.5 L588.3,516.3 L589.3,514.9 L590.3,513.3 L591.3,511.5 L592.3,509.6 L593.3,507.7 L594.3,505.8 L595.3,504.1 L596.3,502.6 L597.3,501.3 L598.3,500.4 L599.3,499.8 L600.3,499.6 L601.3,499.7 L602.3,500.1 L603.3,500.7 L604.3,501.4 L605.3,501.9 L606.3,502.3 L607.3,502.4 L608.3,501.9 L609.3,500.9 L610.3,499.3 L611.3,497.0 L612.3,494.1 L613.3,490.5 L614.3,486.4 L615.3,481.9 L616.3,477.1 L617.3,472.3 L618.3,467.6 L619.3,463.2 L620.3,459.4 L621.3,456.2 L622.3,453.9 L623.3,452.7 L624.3,452.4 L625.3,453.4 L626.3,455.4 L627.3,458.6 L628.3,462.8 L629.3,468.0 L630.3,473.9 L631.3,480.5 L632.3,487.5 L633.3,494.8 L634.3,502.1 L635.3,509.4 L636.3,516.3 L637.3,522.9 L638.3,528.9 L639.3,534.4 L640.3,539.1 L641.3,543.0 L642.3,546.2 L643.3,548.7 L644.3,550.4 L645.3,551.4 L646.3,551.7 L647.3,551.3 L648.3,550.4 L649.3,549.0 L650.3,547.1 L651.3,544.8 L652.3,542.0 L653.3,538.8 L654.3,535.3 L655.3,531.3 L656.3,526.9 L657.3,522.1 L658.3,516.8 L659.3,511.0 L660.3,504.7 L661.3,497.9 L662.3,490.6 L663.3,482.8 L664.3,474.6 L665.3,466.0 L666.3,457.2 L667.3,448.3 L668.3,439.5 L669.3,430.9 L670.3,422.6 L671.3,414.9 L672.3,407.8 L673.3,401.4 L674.3,395.8 L675.3,391.1 L676.3,387.2 L677.3,384.2 L678.3,382.0 L679.3,380.6 L680.3,380.0 L681.3,380.0 L682.3,380.7 L683.3,382.0 L684.3,383.7 L685.3,385.8 L686.3,388.2 L687.3,390.8 L688.3,393.4 L689.3,396.0 L690.3,398.5 L691.3,400.7 L692.3,402.6 L693.3,404.3 L694.3,405.6 L695.3,406.7 L696.3,407.8 L697.3,408.8 L698.3,410.0 L699.3,411.6 L700.3,413.5 L701.3,416.1 L702.3,419.3 L703.3,423.2 L704.3,427.6 L705.3,432.7 L706.3,438.1 L707.3,443.9 L708.3,450.0 L709.3,456.0 L710.3,462.0 L711.3,467.9 L712.3,473.6 L713.3,479.0 L714.3,484.2 L715.3,489.2 L716.3,494.1 L717.3,498.7 L718.3,503.3 L719.3,507.7 L720.3,512.0 L721.3,516.1 L722.3,520.1 L723.3,523.7 L724.3,527.1 L725.3,529.9 L726.3,532.2 L727.3,534.0 L728.3,535.0 L729.3,535.3 L730.3,534.9 L731.3,533.9 L732.3,532.1 L733.3,529.8 L734.3,527.0 L735.3,523.8 L736.3,520.4 L737.3,516.8 L738.3,513.3 L739.3,510.0 L740.3,506.9 L741.3,504.2 L742.3,502.0 L743.3,500.2 L744.3,498.9 L745.3,498.1 L746.3,497.7 L747.3,497.8 L748.3,498.3 L749.3,499.1 L750.3,500.2 L751.3,501.5 L752.3,502.9 L753.3,504.5 L754.3,506.2 L755.3,508.0 L756.3,509.7 L757.3,511.5 L758.3,513.3 L759.3,515.0 L760.3,516.7 L761.3,518.3 L762.3,519.8 L763.3,521.1 L764.3,522.4 L765.3,523.5 L766.3,524.5 L767.3,525.5 L768.3,526.4 L769.3,527.4 L770.3,528.4 L771.3,529.4 L772.3,530.5 L773.3,531.7 L774.3,532.9 L775.3,534.2 L776.3,535.4 L777.3,536.6 L778.3,537.7 L779.3,538.6 L780.3,539.3 L781.3,539.8 L782.3,540.0 L783.3,540.0 L784.3,539.8 L785.3,539.3 L786.3,538.8 L787.3,538.2 L788.3,537.6 L789.3,537.2 L790.3,537.0 L791.3,537.0 L792.3,537.3 L793.3,538.0 L794.3,539.0 L795.3,540.3 L796.3,541.9 L797.3,543.7 L798.3,545.6 L799.3,547.7 L800.3,549.7 L801.3,551.6 L802.3,553.4 L803.3,555.0 L804.3,556.3 L805.3,557.2 L806.3,557.8 L807.3,558.1 L808.3,557.9 L809.3,557.4 L810.3,556.5 L811.3,555.3 L812.3,553.8 L813.3,552.1 L814.3,550.3 L815.3,548.5 L816.3,546.6 L817.3,544.9 L818.3,543.4 L819.3,542.1 L820.3,541.2 L821.3,540.6 L822.3,540.4 L823.3,540.6 L824.3,541.3 L825.3,542.2 L826.3,543.5 L827.3,545.0 L828.3,546.7 L829.3,548.4 L830.3,550.1 L831.3,551.7 L832.3,553.0 L833.3,554.1 L834.3,554.7 L835.3,555.0 L836.3,554.7 L837.3,554.0 L838.3,552.7 L839.3,550.9 L840.3,548.6 L841.3,545.9 L842.3,542.7 L843.3,539.2 L844.3,535.5 L845.3,531.7 L846.3,527.8 L847.3,524.1 L848.3,520.5 L849.3,517.4 L850.3,514.7 L851.3,512.5 L852.3,511.0 L853.3,510.1 L854.3,509.9 L855.3,510.3 L856.3,511.4 L857.3,513.0 L858.3,515.0 L859.3,517.3 L860.3,519.9 L861.3,522.5 L862.3,525.1 L863.3,527.6 L864.3,529.8 L865.3,531.7 L866.3,533.2 L867.3,534.4 L868.3,535.1 L869.3,535.5 L870.3,535.5 L871.3,535.3 L872.3,534.8 L873.3,534.2 L874.3,533.5 L875.3,532.8 L876.3,532.1 L877.3,531.5 L878.3,530.9 L879.3,530.3 L880.3,529.8 L881.3,529.3 L882.3,528.7 L883.3,528.0 L884.3,527.1 L885.3,526.1 L886.3,524.8 L887.3,523.4 L888.3,521.6 L889.3,519.7 L890.3,517.5 L891.3,515.2 L892.3,512.7 L893.3,510.1 L894.3,507.4 L895.3,504.6 L896.3,501.7 L897.3,498.7 L898.3,495.6 L899.3,492.2 L900.3,488.5 L901.3,484.5 L902.3,480.2 L903.3,475.4 L904.3,470.1 L905.3,464.4 L906.3,458.3 L907.3,451.9 L908.3,445.3 L909.3,438.5 L910.3,431.9 L911.3,425.5 L912.3,419.5 L913.3,414.1 L914.3,409.5 L915.3,405.8 L916.3,403.1 L917.3,401.5 L918.3,400.9 L919.3,401.3 L920.3,402.7 L921.3,404.9 L922.3,407.9 L923.3,411.4 L924.3,415.4 L925.3,419.7 L926.3,424.2 L927.3,428.7 L928.3,433.1 L929.3,437.3 L930.3,441.1 L931.3,444.5 L932.3,447.3 L933.3,449.5 L934.3,451.0 L935.3,451.8 L936.3,451.8 L937.3,450.9 L938.3,449.3 L939.3,446.9 L940.3,443.8 L941.3,440.0 L942.3,435.9 L943.3,431.4 L944.3,426.9 L945.3,422.4 L946.3,418.2 L947.3,414.5 L948.3,411.4 L949.3,409.1 L950.3,407.6 L951.3,407.1 L952.3,407.6 L953.3,409.0 L954.3,411.2 L955.3,414.3 L956.3,418.0 L957.3,422.4 L958.3,427.2 L959.3,432.3 L960.3,437.8 L961.3,443.4 L962.3,449.1 L963.3,454.9 L964.3,460.6 L965.3,466.3 L966.3,471.9 L967.3,477.4 L968.3,482.6 L969.3,487.6 L970.3,492.4 L971.3,496.9 L972.3,501.2 L973.3,505.1 L974.3,508.9 L975.3,512.4 L976.3,515.7 L977.3,519.0 L978.3,522.1 L979.3,525.2 L980.3,528.3 L981.3,531.4 L982.3,534.6 L983.3,537.7 L984.3,540.9 L985.3,544.1 L986.3,547.2 L987.3,550.3 L988.3,553.2 L989.3,555.9 L990.3,558.4 L991.3,560.7 L992.3,562.8 L993.3,564.7 L994.3,566.2 L995.3,567.6 L996.3,568.8 L997.3,569.7 L998.3,570.5 L999.3,571.1 L1000.3,571.6 L1001.3,572.0 L1002.3,572.3 L1003.3,572.5 L1004.3,572.7 L1005.3,572.8 L1006.3,572.9 L1007.3,573.0 L1008.3,573.0 L1009.3,573.1 L1010.3,573.1 L1011.3,573.1 L1012.3,573.2 L1013.3,573.2 L1014.3,573.2 L1015.3,573.2 L1016.3,573.2 L1017.3,573.2 L1018.3,573.2 L1019.3,573.2 L1020.3,573.2 L1021.3,573.2 L1022.3,573.2 L1023.3,573.2 L1024.3,573.2 L1025.3,573.2 L1026.3,573.2 L1027.3,573.2 L1028.3,573.2 L1029.3,573.2 L1030.3,573.2 L1031.3,573.2 L1032.3,573.2 L1033.3,573.2 L1034.3,573.2 L1035.3,573.2 L1036.3,573.2 L1037.3,573.2 L1038.3,573.2 L1039.3,573.2 L1040.3,573.2 L1041.3,573.2 L1042.3,573.2 L1043.3,573.2 L1044.3,573.1 L1045.3,573.1 L1046.3,573.1 L1047.3,573.0 L1048.3,573.0 L1049.3,572.9 L1050.3,572.7 L1051.3,572.6 L1052.3,572.3 L1053.3,572.1 L1054.3,571.7 L1055.3,571.2 L1056.3,570.7 L1057.3,570.0 L1058.3,569.2 L1059.3,568.2 L1060.3,567.1 L1061.3,565.7 L1062.3,564.1 L1063.3,562.2 L1064.3,560.0 L1065.3,557.4 L1066.3,554.5 L1067.3,551.1 L1068.3,547.1 L1069.3,542.5 L1070.3,537.3 L1071.3,531.3 L1072.3,524.4 L1073.3,516.7 L1074.3,508.1 L1075.3,498.5 L1076.3,488.1 L1077.3,476.8 L1078.3,464.8 L1079.3,452.2 L1080.3,439.3 L1081.3,426.3 L1082.3,413.5 L1083.3,401.1 L1084.3,389.6 L1085.3,379.2 L1086.3,370.2 L1087.3,362.9 L1088.3,357.4 L1089.3,353.9 L1090.3,352.5 L1091.3,353.2 L1092.3,355.9 L1093.3,360.6 L1094.3,367.1 L1095.3,375.1 L1096.3,384.4 L1097.3,394.8 L1098.3,405.9 L1099.3,417.4 L1100.3,428.9 L1101.3,440.3 L1102.3,451.2 L1103.3,461.3 L1104.3,470.3 L1105.3,478.2 L1106.3,484.7 L1107.3,489.7 L1108.3,493.2 L1109.3,495.0 L1110.3,495.3 L1111.3,494.0 L1112.3,491.4 L1113.3,487.6 L1114.3,482.8 L1115.3,477.2 L1116.3,471.2 L1117.3,465.0 L1118.3,459.0 L1119.3,453.4 L1120.3,448.6 L1121.3,444.7 L1122.3,442.0 L1123.3,440.6 L1124.3,440.6 L1125.3,441.8 L1126.3,444.3 L1127.3,447.9 L1128.3,452.4 L1129.3,457.5 L1130.3,462.9 L1131.3,468.3 L1132.3,473.5 L1133.3,478.2 L1134.3,482.2 L1135.3,485.2 L1136.3,487.2 L1137.3,488.1 L1138.3,487.8 L1139.3,486.4 L1140.3,484.0 L1141.3,480.7 L1142.3,476.6 L1143.3,471.8 L1144.3,466.5 L1145.3,460.8 L1146.3,454.9 L1147.3,448.8 L1148.3,442.7 L1149.3,436.6 L1150.3,430.5 L1151.3,424.5 L1152.3,418.6 L1153.3,412.7 L1154.3,407.0 L1155.3,401.4 L1156.3,395.9 L1157.3,390.6 L1158.3,385.5 L1159.3,380.7 L1160.3,376.3 L1161.3,372.6 L1162.3,369.4 L1163.3,367.1 L1164.3,365.7 L1165.3,365.2 L1166.3,365.7 L1167.3,367.3 L1168.3,369.8 L1169.3,373.1 L1170.3,377.1 L1171.3,381.6 L1172.3,386.3 L1173.3,391.2 L1174.3,395.9 L1175.3,400.2 L1176.3,404.1 L1177.3,407.5 L1178.3,410.4 L1179.3,412.6 L1180.3,414.5 L1181.3,416.0 L1182.3,417.4 L1183.3,418.8 L1184.3,420.4 L1185.3,422.2 L1186.3,424.6 L1187.3,427.4 L1188.3,430.8 L1189.3,434.8 L1190.3,439.3 L1191.3,444.3 L1192.3,449.6 L1193.3,455.2 L1194.3,460.9 L1195.3,466.8 L1196.3,472.6 L1197.3,478.3 L1198.3,484.0 L1199.3,489.5 L1200.3,494.9 L1201.3,500.1 L1202.3,505.2 L1203.3,510.3 L1204.3,515.2 L1205.3,520.1 L1206.3,524.9 L1207.3,529.6 L1208.3,534.1 L1209.3,538.5 L1210.3,542.7 L1211.3,546.7 L1212.3,550.4 L1213.3,553.8 L1214.3,556.9 L1215.3,559.6 L1216.3,562.0 L1217.3,564.1 L1218.3,565.9 L1219.3,567.4 L1220.3,568.7 L1221.3,569.7 L1222.3,570.5 L1223.3,571.1 L1224.3,571.6 L1225.3,572.0 L1226.3,572.3 L1227.3,572.5 L1228.3,572.7" fill="none" stroke="#1414f5" stroke-width="1.5" stroke-linejoin="round"/>
<path d="M90.3,573.0 L91.3,572.9 L92.3,572.8 L93.3,572.6 L94.3,572.5 L95.3,572.2 L96.3,571.9 L97.3,571.4 L98.3,570.9 L99.3,570.2 L100.3,569.4 L101.3,568.5 L102.3,567.3 L103.3,566.0 L104.3,564.5 L105.3,562.8 L106.3,560.9 L107.3,558.9 L108.3,556.7 L109.3,554.4 L110.3,552.1 L111.3,549.8 L112.3,547.6 L113.3,545.6 L114.3,543.7 L115.3,542.2 L116.3,541.1 L117.3,540.3 L118.3,540.0 L119.3,540.2 L120.3,540.7 L121.3,541.8 L122.3,543.1 L123.3,544.9 L124.3,546.9 L125.3,549.0 L126.3,551.3 L127.3,553.6 L128.3,555.9 L129.3,558.1 L130.3,560.1 L131.3,561.9 L132.3,563.4 L133.3,564.7 L134.3,565.7 L135.3,566.4 L136.3,566.3 L137.3,566.0 L138.3,565.6 L139.3,565.1 L140.3,564.3 L141.3,563.4 L142.3,562.3 L143.3,561.0 L144.3,559.4 L145.3,557.7 L146.3,555.8 L147.3,553.8 L148.3,551.7 L149.3,549.6 L150.3,547.6 L151.3,545.7 L152.3,543.9 L153.3,542.3 L154.3,541.0 L155.3,539.9 L156.3,539.1 L157.3,538.6 L158.3,538.6 L159.3,539.2 L160.3,540.5 L161.3,542.4 L162.3,545.1 L163.3,548.6 L164.3,551.1 L165.3,553.5 L166.3,555.8 L167.3,558.1 L168.3,560.3 L169.3,562.3 L170.3,564.1 L171.3,565.7 L172.3,567.1 L173.3,568.3 L174.3,569.4 L175.3,570.2 L176.3,570.9 L177.3,571.4 L178.3,571.9 L179.3,572.2 L180.3,572.5 L181.3,572.6 L182.3,572.8 L183.3,572.9 L184.3,573.0 L185.3,573.0 L186.3,573.0 L187.3,573.1 L188.3,573.1 L189.3,573.1 L190.3,573.1 L191.3,573.1 L192.3,573.1 L193.3,573.1 L194.3,573.2 L195.3,573.2 L196.3,573.2 L197.3,573.2 L198.3,573.2 L199.3,573.2 L200.3,573.2 L201.3,573.2 L202.3,573.2 L203.3,573.2 L204.3,573.2 L205.3,573.2 L206.3,573.2 L207.3,573.2 L208.3,573.2 L209.3,573.2 L210.3,573.2 L211.3,573.2 L212.3,573.2 L213.3,573.2 L214.3,573.2 L215.3,573.2 L216.3,573.2 L217.3,573.2 L218.3,573.2 L219.3,573.2 L220.3,573.2 L221.3,573.2 L222.3,573.2 L223.3,573.2 L224.3,573.2 L225.3,573.2 L226.3,573.2 L227.3,573.2 L228.3,573.2 L229.3,573.2 L230.3,573.2 L231.3,573.2 L232.3,573.2 L233.3,573.2 L234.3,573.2 L235.3,573.2 L236.3,573.2 L237.3,573.2 L238.3,573.2 L239.3,573.2 L240.3,573.2 L241.3,573.2 L242.3,573.2 L243.3,573.2 L244.3,573.2 L245.3,573.2 L246.3,573.2 L247.3,573.2 L248.3,573.2 L249.3,573.2 L250.3,573.2 L251.3,573.2 L252.3,573.2 L253.3,573.2 L254.3,573.2 L255.3,573.2 L256.3,573.2 L257.3,573.2 L258.3,573.2 L259.3,573.2 L260.3,573.2 L261.3,573.2 L262.3,573.2 L263.3,573.2 L264.3,573.2 L265.3,573.2 L266.3,573.2 L267.3,573.2 L268.3,573.2 L269.3,573.2 L270.3,573.2 L271.3,573.2 L272.3,573.2 L273.3,573.2 L274.3,573.2 L275.3,573.2 L276.3,573.2 L277.3,573.2 L278.3,573.2 L279.3,573.2 L280.3,573.2 L281.3,573.2 L282.3,573.2 L283.3,573.2 L284.3,573.2 L285.3,573.2 L286.3,573.2 L287.3,573.2 L288.3,573.2 L289.3,573.2 L290.3,573.2 L291.3,573.2 L292.3,573.2 L293.3,573.2 L294.3,573.2 L295.3,573.2 L296.3,573.2 L297.3,573.2 L298.3,573.2 L299.3,573.2 L300.3,573.2 L301.3,573.2 L302.3,573.2 L303.3,573.2 L304.3,573.2 L305.3,573.2 L306.3,573.2 L307.3,573.2 L308.3,573.2 L309.3,573.2 L310.3,573.2 L311.3,573.2 L312.3,573.2 L313.3,573.2 L314.3,573.2 L315.3,573.2 L316.3,573.2 L317.3,573.2 L318.3,573.2 L319.3,573.2 L320.3,573.2 L321.3,573.2 L322.3,573.2 L323.3,573.2 L324.3,573.2 L325.3,573.2 L326.3,573.2 L327.3,573.2 L328.3,573.2 L329.3,573.2 L330.3,573.2 L331.3,573.2 L332.3,573.2 L333.3,573.2 L334.3,573.2 L335.3,573.2 L336.3,573.2 L337.3,573.2 L338.3,573.2 L339.3,573.2 L340.3,573.2 L341.3,573.2 L342.3,573.2 L343.3,573.2 L344.3,573.2 L345.3,573.2 L346.3,573.2 L347.3,573.2 L348.3,573.2 L349.3,573.2 L350.3,573.2 L351.3,573.2 L352.3,573.2 L353.3,573.2 L354.3,573.2 L355.3,573.2 L356.3,573.2 L357.3,573.2 L358.3,573.2 L359.3,573.2 L360.3,573.2 L361.3,573.2 L362.3,573.2 L363.3,573.2 L364.3,573.2 L365.3,573.2 L366.3,573.2 L367.3,573.2 L368.3,573.2 L369.3,573.2 L370.3,573.2 L371.3,573.2 L372.3,573.2 L373.3,573.2 L374.3,573.2 L375.3,573.2 L376.3,573.2 L377.3,573.2 L378.3,573.2 L379.3,573.2 L380.3,573.2 L381.3,573.2 L382.3,573.2 L383.3,573.2 L384.3,573.2 L385.3,573.2 L386.3,573.2 L387.3,573.2 L388.3,573.2 L389.3,573.2 L390.3,573.2 L391.3,573.2 L392.3,573.2 L393.3,573.2 L394.3,573.2 L395.3,573.2 L396.3,573.2 L397.3,573.2 L398.3,573.2 L399.3,573.2 L400.3,573.2 L401.3,573.2 L402.3,573.2 L403.3,573.2 L404.3,573.2 L405.3,573.2 L406.3,573.2 L407.3,573.2 L408.3,573.2 L409.3,573.2 L410.3,573.2 L411.3,573.2 L412.3,573.2 L413.3,573.2 L414.3,573.2 L415.3,573.2 L416.3,573.2 L417.3,573.2 L418.3,573.2 L419.3,573.2 L420.3,573.2 L421.3,573.2 L422.3,573.2 L423.3,573.2 L424.3,573.1 L425.3,573.1 L426.3,573.1 L427.3,572.9 L428.3,572.7 L429.3,572.5 L430.3,572.4 L431.3,572.3 L432.3,572.2 L433.3,572.1 L434.3,571.8 L435.3,571.5 L436.3,571.0 L437.3,570.4 L438.3,569.6 L439.3,568.6 L440.3,567.4 L441.3,565.9 L442.3,564.2 L443.3,562.1 L444.3,559.9 L445.3,557.4 L446.3,554.9 L447.3,552.4 L448.3,550.1 L449.3,547.4 L450.3,544.5 L451.3,541.7 L452.3,538.9 L453.3,536.2 L454.3,533.7 L455.3,531.3 L456.3,529.2 L457.3,527.4 L458.3,525.8 L459.3,524.5 L460.3,523.5 L461.3,522.7 L462.3,522.3 L463.3,522.1 L464.3,522.2 L465.3,522.6 L466.3,523.2 L467.3,524.1 L468.3,525.3 L469.3,526.8 L470.3,528.5 L471.3,530.4 L472.3,532.5 L473.3,534.8 L474.3,537.1 L475.3,539.4 L476.3,541.7 L477.3,543.9 L478.3,545.9 L479.3,547.6 L480.3,549.0 L481.3,550.0 L482.3,550.6 L483.3,550.8 L484.3,550.7 L485.3,550.1 L486.3,548.5 L487.3,545.6 L488.3,543.3 L489.3,541.7 L490.3,540.5 L491.3,539.8 L492.3,539.5 L493.3,539.6 L494.3,539.9 L495.3,540.2 L496.3,540.9 L497.3,541.7 L498.3,542.9 L499.3,544.4 L500.3,546.1 L501.3,548.0 L502.3,550.1 L503.3,552.2 L504.3,554.5 L505.3,556.7 L506.3,558.8 L507.3,560.9 L508.3,562.7 L509.3,564.5 L510.3,566.0 L511.3,567.3 L512.3,568.4 L513.3,569.3 L514.3,570.1 L515.3,570.6 L516.3,570.9 L517.3,571.0 L518.3,571.0 L519.3,570.7 L520.3,570.2 L521.3,569.5 L522.3,568.5 L523.3,567.5 L524.3,566.3 L525.3,565.1 L526.3,563.9 L527.3,562.7 L528.3,561.4 L529.3,559.2 L530.3,556.7 L531.3,554.0 L532.3,551.1 L533.3,548.1 L534.3,545.0 L535.3,541.8 L536.3,538.6 L537.3,535.4 L538.3,532.4 L539.3,529.5 L540.3,526.8 L541.3,524.3 L542.3,522.1 L543.3,520.1 L544.3,518.4 L545.3,516.9 L546.3,515.7 L547.3,514.7 L548.3,514.0 L549.3,513.6 L550.3,513.4 L551.3,513.4 L552.3,513.6 L553.3,514.1 L554.3,514.7 L555.3,515.5 L556.3,516.4 L557.3,517.5 L558.3,518.6 L559.3,519.8 L560.3,521.0 L561.3,522.3 L562.3,523.5 L563.3,524.9 L564.3,526.3 L565.3,527.8 L566.3,529.3 L567.3,531.0 L568.3,532.9 L569.3,534.9 L570.3,537.0 L571.3,539.2 L572.3,541.5 L573.3,543.9 L574.3,546.2 L575.3,548.4 L576.3,550.5 L577.3,552.2 L578.3,553.7 L579.3,554.7 L580.3,555.3 L581.3,555.3 L582.3,554.8 L583.3,553.7 L584.3,551.9 L585.3,549.6 L586.3,546.7 L587.3,543.2 L588.3,539.4 L589.3,535.1 L590.3,530.7 L591.3,526.1 L592.3,520.9 L593.3,515.1 L594.3,510.3 L595.3,506.5 L596.3,503.6 L597.3,501.6 L598.3,500.4 L599.3,499.8 L600.3,499.6 L601.3,499.7 L602.3,500.1 L603.3,500.7 L604.3,501.4 L605.3,501.9 L606.3,502.3 L607.3,502.4 L608.3,501.9 L609.3,500.9 L610.3,499.3 L611.3,497.0 L612.3,494.1 L613.3,490.5 L614.3,486.4 L615.3,481.9 L616.3,477.1 L617.3,472.3 L618.3,467.6 L619.3,463.2 L620.3,459.4 L621.3,456.2 L622.3,453.9 L623.3,452.7 L624.3,452.4 L625.3,453.4 L626.3,455.4 L627.3,458.6 L628.3,462.8 L629.3,468.0 L630.3,473.9 L631.3,480.5 L632.3,487.5 L633.3,494.8 L634.3,502.1 L635.3,509.4 L636.3,516.3 L637.3,522.9 L638.3,528.9 L639.3,534.4 L640.3,539.1 L641.3,543.0 L642.3,546.2 L643.3,548.7 L644.3,550.4 L645.3,551.4 L646.3,551.7 L647.3,551.3 L648.3,550.4 L649.3,549.0 L650.3,547.1 L651.3,544.8 L652.3,542.0 L653.3,538.8 L654.3,535.3 L655.3,531.3 L656.3,526.9 L657.3,522.1 L658.3,517.0 L659.3,511.9 L660.3,507.1 L661.3,502.8 L662.3,499.2 L663.3,496.1 L664.3,491.9 L665.3,487.7 L666.3,483.7 L667.3,479.9 L668.3,476.4 L669.3,473.3 L670.3,470.7 L671.3,468.7 L672.3,467.3 L673.3,466.7 L674.3,466.8 L675.3,467.7 L676.3,469.3 L677.3,471.5 L678.3,474.4 L679.3,477.8 L680.3,481.6 L681.3,485.6 L682.3,489.8 L683.3,494.0 L684.3,498.2 L685.3,502.2 L686.3,506.0 L687.3,509.6 L688.3,513.0 L689.3,516.1 L690.3,519.0 L691.3,521.8 L692.3,524.4 L693.3,526.9 L694.3,529.4 L695.3,531.8 L696.3,534.3 L697.3,536.8 L698.3,539.4 L699.3,542.0 L700.3,544.6 L701.3,547.3 L702.3,549.9 L703.3,552.5 L704.3,555.0 L705.3,557.3 L706.3,559.6 L707.3,561.6 L708.3,563.4 L709.3,565.1 L710.3,566.5 L711.3,567.7 L712.3,568.7 L713.3,569.5 L714.3,570.0 L715.3,570.4 L716.3,570.6 L717.3,570.6 L718.3,570.4 L719.3,570.0 L720.3,569.4 L721.3,568.6 L722.3,567.4 L723.3,566.1 L724.3,564.4 L725.3,562.4 L726.3,560.0 L727.3,557.3 L728.3,553.3 L729.3,547.5 L730.3,542.5 L731.3,538.0 L732.3,534.0 L733.3,530.3 L734.3,527.0 L735.3,523.8 L736.3,520.4 L737.3,516.8 L738.3,513.3 L739.3,510.0 L740.3,506.9 L741.3,504.2 L742.3,502.0 L743.3,500.2 L744.3,498.9 L745.3,498.1 L746.3,497.7 L747.3,497.8 L748.3,498.3 L749.3,499.1 L750.3,500.2 L751.3,501.5 L752.3,502.9 L753.3,504.5 L754.3,506.2 L755.3,508.0 L756.3,509.7 L757.3,511.5 L758.3,513.3 L759.3,515.0 L760.3,516.7 L761.3,518.3 L762.3,519.8 L763.3,521.1 L764.3,522.4 L765.3,523.5 L766.3,524.5 L767.3,525.5 L768.3,526.4 L769.3,527.5 L770.3,529.1 L771.3,530.9 L772.3,533.1 L773.3,535.7 L774.3,538.6 L775.3,541.7 L776.3,544.1 L777.3,546.6 L778.3,549.1 L779.3,551.7 L780.3,554.2 L781.3,556.6 L782.3,558.9 L783.3,561.0 L784.3,562.9 L785.3,564.7 L786.3,566.2 L787.3,567.5 L788.3,568.6 L789.3,569.4 L790.3,570.1 L791.3,570.6 L792.3,571.0 L793.3,571.1 L794.3,571.2 L795.3,571.1 L796.3,570.9 L797.3,570.5 L798.3,570.0 L799.3,569.4 L800.3,568.7 L801.3,567.8 L802.3,566.9 L803.3,565.2 L804.3,562.8 L805.3,560.9 L806.3,559.6 L807.3,558.7 L808.3,558.0 L809.3,557.4 L810.3,556.5 L811.3,555.3 L812.3,553.8 L813.3,552.1 L814.3,550.3 L815.3,548.5 L816.3,546.6 L817.3,544.9 L818.3,543.4 L819.3,542.1 L820.3,541.2 L821.3,540.6 L822.3,540.4 L823.3,540.6 L824.3,541.3 L825.3,542.2 L826.3,543.5 L827.3,545.0 L828.3,546.7 L829.3,548.4 L830.3,550.1 L831.3,551.7 L832.3,553.0 L833.3,554.1 L834.3,555.2 L835.3,556.4 L836.3,557.7 L837.3,559.2 L838.3,560.8 L839.3,561.3 L840.3,561.6 L841.3,561.5 L842.3,561.1 L843.3,560.4 L844.3,559.3 L845.3,558.0 L846.3,556.3 L847.3,554.5 L848.3,552.4 L849.3,550.3 L850.3,548.1 L851.3,546.0 L852.3,544.0 L853.3,542.1 L854.3,540.6 L855.3,539.3 L856.3,538.4 L857.3,537.7 L858.3,537.5 L859.3,537.5 L860.3,537.7 L861.3,538.2 L862.3,538.7 L863.3,539.2 L864.3,539.7 L865.3,540.1 L866.3,540.3 L867.3,540.2 L868.3,540.0 L869.3,539.3 L870.3,538.1 L871.3,536.9 L872.3,535.8 L873.3,534.7 L874.3,533.7 L875.3,532.8 L876.3,532.1 L877.3,531.5 L878.3,530.9 L879.3,530.3 L880.3,529.8 L881.3,529.3 L882.3,528.7 L883.3,528.0 L884.3,527.1 L885.3,526.1 L886.3,524.8 L887.3,523.4 L888.3,521.6 L889.3,519.7 L890.3,517.5 L891.3,515.2 L892.3,512.7 L893.3,510.1 L894.3,507.4 L895.3,504.6 L896.3,501.7 L897.3,498.7 L898.3,495.6 L899.3,492.2 L900.3,488.5 L901.3,484.5 L902.3,480.2 L903.3,475.4 L904.3,470.2 L905.3,464.6 L906.3,458.6 L907.3,452.3 L908.3,446.1 L909.3,440.1 L910.3,434.4 L911.3,429.2 L912.3,424.8 L913.3,421.4 L914.3,419.0 L915.3,417.8 L916.3,417.7 L917.3,418.8 L918.3,421.0 L919.3,424.3 L920.3,428.5 L921.3,433.5 L922.3,439.1 L923.3,445.2 L924.3,451.7 L925.3,458.5 L926.3,465.4 L927.3,472.5 L928.3,479.5 L929.3,486.5 L930.3,493.3 L931.3,499.8 L932.3,506.1 L933.3,512.0 L934.3,517.4 L935.3,522.2 L936.3,526.3 L937.3,529.8 L938.3,532.5 L939.3,534.4 L940.3,535.5 L941.3,535.8 L942.3,535.4 L943.3,534.3 L944.3,532.5 L945.3,530.3 L946.3,527.6 L947.3,524.6 L948.3,521.5 L949.3,518.2 L950.3,514.9 L951.3,511.7 L952.3,508.6 L953.3,505.8 L954.3,503.2 L955.3,500.9 L956.3,499.0 L957.3,497.5 L958.3,496.5 L959.3,495.9 L960.3,495.7 L961.3,496.2 L962.3,497.1 L963.3,498.6 L964.3,500.6 L965.3,503.2 L966.3,506.2 L967.3,509.6 L968.3,513.4 L969.3,517.5 L970.3,521.8 L971.3,526.2 L972.3,530.7 L973.3,535.0 L974.3,539.3 L975.3,543.4 L976.3,547.2 L977.3,550.8 L978.3,554.0 L979.3,557.0 L980.3,559.6 L981.3,561.9 L982.3,563.9 L983.3,565.6 L984.3,567.1 L985.3,568.3 L986.3,569.3 L987.3,570.1 L988.3,570.8 L989.3,571.4 L990.3,571.8 L991.3,572.1 L992.3,572.4 L993.3,572.6 L994.3,572.8 L995.3,572.9 L996.3,573.0 L997.3,572.9 L998.3,572.5 L999.3,572.4 L1000.3,572.3 L1001.3,572.3 L1002.3,572.4 L1003.3,572.5 L1004.3,572.7 L1005.3,572.8 L1006.3,572.9 L1007.3,573.0 L1008.3,573.0 L1009.3,573.1 L1010.3,573.1 L1011.3,573.1 L1012.3,573.2 L1013.3,573.2 L1014.3,573.2 L1015.3,573.2 L1016.3,573.2 L1017.3,573.2 L1018.3,573.2 L1019.3,573.2 L1020.3,573.2 L1021.3,573.2 L1022.3,573.2 L1023.3,573.2 L1024.3,573.2 L1025.3,573.2 L1026.3,573.2 L1027.3,573.2 L1028.3,573.2 L1029.3,573.2 L1030.3,573.2 L1031.3,573.2 L1032.3,573.2 L1033.3,573.2 L1034.3,573.2 L1035.3,573.2 L1036.3,573.2 L1037.3,573.2 L1038.3,573.2 L1039.3,573.2 L1040.3,573.2 L1041.3,573.2 L1042.3,573.2 L1043.3,573.2 L1044.3,573.1 L1045.3,573.1 L1046.3,573.1 L1047.3,573.0 L1048.3,573.0 L1049.3,572.9 L1050.3,572.7 L1051.3,572.6 L1052.3,572.3 L1053.3,572.1 L1054.3,571.7 L1055.3,571.2 L1056.3,570.7 L1057.3,570.0 L1058.3,569.2 L1059.3,568.2 L1060.3,567.1 L1061.3,565.7 L1062.3,564.1 L1063.3,562.2 L1064.3,560.0 L1065.3,557.4 L1066.3,554.5 L1067.3,551.1 L1068.3,547.1 L1069.3,542.5 L1070.3,537.3 L1071.3,531.3 L1072.3,524.4 L1073.3,516.7 L1074.3,508.1 L1075.3,498.5 L1076.3,488.1 L1077.3,476.8 L1078.3,465.0 L1079.3,454.1 L1080.3,444.6 L1081.3,437.0 L1082.3,432.1 L1083.3,430.3 L1084.3,430.2 L1085.3,427.6 L1086.3,426.4 L1087.3,426.8 L1088.3,428.7 L1089.3,431.9 L1090.3,436.5 L1091.3,442.2 L1092.3,449.0 L1093.3,456.4 L1094.3,464.4 L1095.3,472.8 L1096.3,481.2 L1097.3,489.5 L1098.3,497.4 L1099.3,505.0 L1100.3,512.0 L1101.3,518.4 L1102.3,523.9 L1103.3,528.4 L1104.3,531.6 L1105.3,533.1 L1106.3,532.9 L1107.3,530.9 L1108.3,527.2 L1109.3,522.1 L1110.3,514.9 L1111.3,505.9 L1112.3,497.7 L1113.3,490.3 L1114.3,483.5 L1115.3,477.3 L1116.3,471.2 L1117.3,465.0 L1118.3,459.0 L1119.3,453.4 L1120.3,448.6 L1121.3,444.7 L1122.3,442.0 L1123.3,440.6 L1124.3,440.6 L1125.3,441.8 L1126.3,444.3 L1127.3,447.9 L1128.3,452.4 L1129.3,457.5 L1130.3,462.9 L1131.3,468.3 L1132.3,473.5 L1133.3,478.2 L1134.3,482.2 L1135.3,485.2 L1136.3,487.2 L1137.3,488.1 L1138.3,487.8 L1139.3,486.4 L1140.3,484.0 L1141.3,480.7 L1142.3,476.6 L1143.3,471.8 L1144.3,466.6 L1145.3,461.8 L1146.3,457.2 L1147.3,453.0 L1148.3,449.3 L1149.3,445.9 L1150.3,442.4 L1151.3,437.7 L1152.3,432.9 L1153.3,428.2 L1154.3,423.6 L1155.3,419.2 L1156.3,414.9 L1157.3,411.0 L1158.3,407.4 L1159.3,404.3 L1160.3,401.8 L1161.3,399.9 L1162.3,398.7 L1163.3,398.2 L1164.3,398.6 L1165.3,399.9 L1166.3,402.0 L1167.3,404.9 L1168.3,408.6 L1169.3,413.1 L1170.3,418.1 L1171.3,423.6 L1172.3,429.4 L1173.3,435.4 L1174.3,441.4 L1175.3,447.2 L1176.3,452.8 L1177.3,457.9 L1178.3,462.7 L1179.3,467.0 L1180.3,470.8 L1181.3,474.3 L1182.3,477.4 L1183.3,480.3 L1184.3,483.0 L1185.3,485.8 L1186.3,488.6 L1187.3,491.5 L1188.3,494.7 L1189.3,498.1 L1190.3,501.8 L1191.3,505.9 L1192.3,510.1 L1193.3,514.6 L1194.3,519.2 L1195.3,523.9 L1196.3,528.6 L1197.3,533.2 L1198.3,537.7 L1199.3,542.0 L1200.3,546.0 L1201.3,549.8 L1202.3,553.3 L1203.3,556.4 L1204.3,559.2 L1205.3,561.6 L1206.3,563.7 L1207.3,565.5 L1208.3,567.1 L1209.3,568.3 L1210.3,569.4 L1211.3,570.2 L1212.3,570.9 L1213.3,571.5 L1214.3,571.9 L1215.3,572.2 L1216.3,572.5 L1217.3,572.7 L1218.3,572.8 L1219.3,572.9 L1220.3,573.0 L1221.3,573.1 L1222.3,573.1 L1223.3,573.1 L1224.3,573.2 L1225.3,573.2 L1226.3,573.2 L1227.3,573.2 L1228.3,573.2" fill="none" stroke="#1414f5" stroke-width="1.5" stroke-linejoin="round"/>
<path d="M745.7,572.8 L746.7,572.7 L747.7,572.5 L748.7,572.3 L749.7,571.9 L750.7,571.5 L751.7,571.0 L752.7,570.4 L753.7,569.6 L754.7,568.6 L755.7,567.5 L756.7,566.2 L757.7,564.7 L758.7,563.0 L759.7,561.1 L760.7,559.0 L761.7,556.9 L762.7,554.6 L763.7,552.3 L764.7,550.0 L765.7,547.8 L766.7,545.7 L767.7,543.8 L768.7,542.3 L769.7,541.0 L770.7,540.1 L771.7,539.7 L772.7,539.6 L773.7,540.0 L774.7,540.9 L775.7,542.1 L776.7,543.6 L777.7,545.4 L778.7,547.5 L779.7,549.7 L780.7,552.0 L781.7,554.3 L782.7,556.6 L783.7,558.8 L784.7,560.8 L785.7,562.7 L786.7,564.4 L787.7,566.0 L788.7,567.3 L789.7,568.5 L790.7,569.5 L791.7,570.3 L792.7,570.9 L793.7,571.5 L794.7,571.9 L795.7,572.2 L796.7,572.5 L797.7,572.7 L798.7,572.8 L799.7,572.9 L800.7,573.0 L801.7,573.1 L802.7,573.1 L803.7,573.1 L804.7,573.2 L805.7,573.2 L806.7,573.2 L807.7,573.2 L808.7,573.2 L809.7,573.2 L810.7,573.2 L811.7,573.2 L812.7,573.2 L813.7,573.2 L814.7,573.2 L815.7,573.2 L816.7,573.2 L817.7,573.2 L818.7,573.2 L819.7,573.2 L820.7,573.2 L821.7,573.2 L822.7,573.2 L823.7,573.2 L824.7,573.2 L825.7,573.1 L826.7,573.1 L827.7,573.1 L828.7,573.0 L829.7,572.9 L830.7,572.8 L831.7,572.6 L832.7,572.4 L833.7,572.1 L834.7,571.8 L835.7,571.3 L836.7,570.7 L837.7,570.0 L838.7,569.2 L839.7,568.1 L840.7,566.9 L841.7,565.5 L842.7,563.9 L843.7,562.2 L844.7,560.2 L845.7,558.1 L846.7,555.9 L847.7,553.6 L848.7,551.3 L849.7,549.0 L850.7,546.8 L851.7,544.8 L852.7,543.1 L853.7,541.7 L854.7,540.6 L855.7,539.9 L856.7,539.6 L857.7,539.8 L858.7,540.4 L859.7,541.3 L860.7,542.7 L861.7,544.4 L862.7,546.3 L863.7,548.4 L864.7,550.7 L865.7,553.0 L866.7,555.3 L867.7,557.5 L868.7,559.7 L869.7,561.7 L870.7,563.5 L871.7,565.1 L872.7,566.6 L873.7,567.9 L874.7,568.9 L875.7,569.8 L876.7,570.6 L877.7,571.2 L878.7,571.7 L879.7,572.1 L880.7,572.4 L881.7,572.6 L882.7,572.8 L883.7,572.9 L884.7,573.0 L885.7,573.0 L886.7,573.1 L887.7,573.1 L888.7,573.2 L889.7,573.2 L890.7,573.2 L891.7,573.2 L892.7,573.2 L893.7,573.2 L894.7,573.2 L895.7,573.2 L896.7,573.2 L897.7,573.2 L898.7,573.2 L899.7,573.2 L900.7,573.2 L901.7,573.2 L902.7,573.2 L903.7,573.2 L904.7,573.2 L905.7,573.2 L906.7,573.2 L907.7,573.2 L908.7,573.2 L909.7,573.2 L910.7,573.2 L911.7,573.2 L912.7,573.2 L913.7,573.2 L914.7,573.2 L915.7,573.2 L916.7,573.2 L917.7,573.2 L918.7,573.2 L919.7,573.2 L920.7,573.2 L921.7,573.2 L922.7,573.2 L923.7,573.2 L924.7,573.2 L925.7,573.2 L926.7,573.2 L927.7,573.2 L928.7,573.2 L929.7,573.2 L930.7,573.2 L931.7,573.2 L932.7,573.2 L933.7,573.2 L934.7,573.2 L935.7,573.2 L936.7,573.2 L937.7,573.2 L938.7,573.2 L939.7,573.2 L940.7,573.2 L941.7,573.2 L942.7,573.2 L943.7,573.2 L944.7,573.2 L945.7,573.2 L946.7,573.2 L947.7,573.2 L948.7,573.2 L949.7,573.2 L950.7,573.2 L951.7,573.2 L952.7,573.2 L953.7,573.2 L954.7,573.2 L955.7,573.2 L956.7,573.2 L957.7,573.2 L958.7,573.2 L959.7,573.2 L960.7,573.2 L961.7,573.2 L962.7,573.2 L963.7,573.2 L964.7,573.2 L965.7,573.2 L966.7,573.2 L967.7,573.2 L968.7,573.2 L969.7,573.2 L970.7,573.2 L971.7,573.2 L972.7,573.2 L973.7,573.2 L974.7,573.2 L975.7,573.2 L976.7,573.2 L977.7,573.2 L978.7,573.2 L979.7,573.2 L980.7,573.2 L981.7,573.2 L982.7,573.2 L983.7,573.2 L984.7,573.2 L985.7,573.2 L986.7,573.2 L987.7,573.2 L988.7,573.2 L989.7,573.2 L990.7,573.2 L991.7,573.2 L992.7,573.2 L993.7,573.2 L994.7,573.2 L995.7,573.2 L996.7,573.2 L997.7,573.2 L998.7,573.2 L999.7,573.2 L1000.7,573.2 L1001.7,573.2 L1002.7,573.2 L1003.7,573.2 L1004.7,573.2 L1005.7,573.2 L1006.7,573.2 L1007.7,573.2 L1008.7,573.2 L1009.7,573.2 L1010.7,573.2 L1011.7,573.2 L1012.7,573.2 L1013.7,573.2 L1014.7,573.2 L1015.7,573.2 L1016.7,573.2 L1017.7,573.2 L1018.7,573.2 L1019.7,573.2 L1020.7,573.2 L1021.7,573.2 L1022.7,573.2 L1023.7,573.2 L1024.7,573.2 L1025.7,573.2 L1026.7,573.2 L1027.7,573.2 L1028.7,573.2 L1029.7,573.2 L1030.7,573.2 L1031.7,573.2 L1032.7,573.2 L1033.7,573.2 L1034.7,573.2 L1035.7,573.2 L1036.7,573.2 L1037.7,573.2 L1038.7,573.2 L1039.7,573.2 L1040.7,573.2 L1041.7,573.2 L1042.7,573.2 L1043.7,573.2 L1044.7,573.2 L1045.7,573.2 L1046.7,573.2 L1047.7,573.2 L1048.7,573.2 L1049.7,573.2 L1050.7,573.2 L1051.7,573.2 L1052.7,573.2 L1053.7,573.2 L1054.7,573.2 L1055.7,573.2 L1056.7,573.2 L1057.7,573.2 L1058.7,573.2 L1059.7,573.2 L1060.7,573.2 L1061.7,573.2 L1062.7,573.2 L1063.7,573.2 L1064.7,573.2 L1065.7,573.2 L1066.7,573.2 L1067.7,573.2 L1068.7,573.2 L1069.7,573.2 L1070.7,573.2 L1071.7,573.2 L1072.7,573.2 L1073.7,573.2 L1074.7,573.2 L1075.7,573.2 L1076.7,573.2 L1077.7,573.2 L1078.7,573.2 L1079.7,573.2 L1080.7,573.2 L1081.7,573.2 L1082.7,573.2 L1083.7,573.2 L1084.7,573.2 L1085.7,573.2 L1086.7,573.2 L1087.7,573.2 L1088.7,573.2 L1089.7,573.1 L1090.7,573.1 L1091.7,573.1 L1092.7,573.0 L1093.7,572.9 L1094.7,572.8 L1095.7,572.6 L1096.7,572.4 L1097.7,572.1 L1098.7,571.7 L1099.7,571.2 L1100.7,570.5 L1101.7,569.6 L1102.7,568.5 L1103.7,567.2 L1104.7,565.6 L1105.7,563.7 L1106.7,561.4 L1107.7,558.8 L1108.7,555.8 L1109.7,552.5 L1110.7,548.8 L1111.7,544.8 L1112.7,540.6 L1113.7,536.2 L1114.7,531.8 L1115.7,527.4 L1116.7,523.1 L1117.7,519.2 L1118.7,515.6 L1119.7,512.6 L1120.7,510.1 L1121.7,508.4 L1122.7,507.5 L1123.7,507.4 L1124.7,508.1 L1125.7,509.5 L1126.7,511.7 L1127.7,514.6 L1128.7,518.0 L1129.7,521.9 L1130.7,526.1 L1131.7,530.4 L1132.7,534.9 L1133.7,539.3 L1134.7,543.6 L1135.7,547.6 L1136.7,551.4 L1137.7,554.8 L1138.7,557.9 L1139.7,560.7 L1140.7,563.0 L1141.7,565.0 L1142.7,566.7 L1143.7,568.2 L1144.7,569.3 L1145.7,570.2 L1146.7,571.0 L1147.7,571.5 L1148.7,572.0 L1149.7,572.3 L1150.7,572.6 L1151.7,572.8" fill="none" stroke="#ff1a1a" stroke-width="2.0" stroke-linejoin="round"/>
<rect x="29.8" y="293.7" width="1229.1000000000001" height="290.3" fill="none" stroke="#222" stroke-width="1.2"/>
<line x1="23.4" y1="573.5" x2="29.8" y2="573.5" stroke="#222" stroke-width="1.3"/>
<line x1="23.4" y1="506.3" x2="29.8" y2="506.3" stroke="#222" stroke-width="1.3"/>
<line x1="23.4" y1="439.1" x2="29.8" y2="439.1" stroke="#222" stroke-width="1.3"/>
<line x1="23.4" y1="371.9" x2="29.8" y2="371.9" stroke="#222" stroke-width="1.3"/>
<line x1="23.4" y1="304.7" x2="29.8" y2="304.7" stroke="#222" stroke-width="1.3"/>
<text transform="translate(16.0,573.7) scale(1,0.92) rotate(-90)" font-size="10" text-anchor="middle" fill="#111" stroke="#111">0</text>
<text transform="translate(16.0,506.5) scale(1,0.92) rotate(-90)" font-size="10" text-anchor="middle" fill="#111" stroke="#111">2</text>
<text transform="translate(16.0,304.9) scale(1,0.92) rotate(-90)" font-size="10" text-anchor="middle" fill="#111" stroke="#111">8</text>
<line x1="55.7" y1="584" x2="55.7" y2="590.7" stroke="#222" stroke-width="1.4"/>
<text transform="translate(55.7,606.0) scale(1,0.95)" font-size="10" text-anchor="middle" fill="#111" stroke="#111">1970</text>
<line x1="163.4" y1="584" x2="163.4" y2="590.7" stroke="#222" stroke-width="1.4"/>
<text transform="translate(163.4,606.0) scale(1,0.95)" font-size="10" text-anchor="middle" fill="#111" stroke="#111">1975</text>
<line x1="271.1" y1="584" x2="271.1" y2="590.7" stroke="#222" stroke-width="1.4"/>
<text transform="translate(271.1,606.0) scale(1,0.95)" font-size="10" text-anchor="middle" fill="#111" stroke="#111">1980</text>
<line x1="378.8" y1="584" x2="378.8" y2="590.7" stroke="#222" stroke-width="1.4"/>
<text transform="translate(378.8,606.0) scale(1,0.95)" font-size="10" text-anchor="middle" fill="#111" stroke="#111">1985</text>
<line x1="486.5" y1="584" x2="486.5" y2="590.7" stroke="#222" stroke-width="1.4"/>
<text transform="translate(486.5,606.0) scale(1,0.95)" font-size="10" text-anchor="middle" fill="#111" stroke="#111">1990</text>
<line x1="594.2" y1="584" x2="594.2" y2="590.7" stroke="#222" stroke-width="1.4"/>
<text transform="translate(594.2,606.0) scale(1,0.95)" font-size="10" text-anchor="middle" fill="#111" stroke="#111">1995</text>
<line x1="701.9" y1="584" x2="701.9" y2="590.7" stroke="#222" stroke-width="1.4"/>
<text transform="translate(701.9,606.0) scale(1,0.95)" font-size="10" text-anchor="middle" fill="#111" stroke="#111">2000</text>
<line x1="809.6" y1="584" x2="809.6" y2="590.7" stroke="#222" stroke-width="1.4"/>
<text transform="translate(809.6,606.0) scale(1,0.95)" font-size="10" text-anchor="middle" fill="#111" stroke="#111">2005</text>
<line x1="917.3" y1="584" x2="917.3" y2="590.7" stroke="#222" stroke-width="1.4"/>
<text transform="translate(917.3,606.0) scale(1,0.95)" font-size="10" text-anchor="middle" fill="#111" stroke="#111">2010</text>
<line x1="1025.0" y1="584" x2="1025.0" y2="590.7" stroke="#222" stroke-width="1.4"/>
<text transform="translate(1025.0,606.0) scale(1,0.95)" font-size="10" text-anchor="middle" fill="#111" stroke="#111">2015</text>
<line x1="1132.7" y1="584" x2="1132.7" y2="590.7" stroke="#222" stroke-width="1.4"/>
<text transform="translate(1132.7,606.0) scale(1,0.95)" font-size="10" text-anchor="middle" fill="#111" stroke="#111">2020</text>
<line x1="1240.4" y1="584" x2="1240.4" y2="590.7" stroke="#222" stroke-width="1.4"/>
<text transform="translate(1240.4,606.0) scale(1,0.95)" font-size="10" text-anchor="middle" fill="#111" stroke="#111">2025</text>
<text transform="translate(14.5,411) scale(1,0.93) rotate(-90)" font-size="12.9" text-anchor="middle" fill="#111" stroke="#111">Number of events</text>
<text x="615.0" y="608.4" font-size="15.3" fill="#111" stroke="#111">Time (yrs)</text>
</g>
<g id="labels">
<text x="22.7" y="38.0" font-size="20.4" fill="#111" stroke="#111">(a)</text>
<text x="55.9" y="39.7" font-size="18.29" fill="#111" stroke="#111">Catalog of major explosions and paroxysms from 1970 to 2023</text>
<line x1="58" y1="67.7" x2="99.3" y2="67.7" stroke="#ff3030" stroke-width="1.4"/>
<line x1="58" y1="86.4" x2="99.3" y2="86.4" stroke="#3030ff" stroke-width="1.2"/>
<line x1="58" y1="103" x2="99.3" y2="103" stroke="#a8a8a8" stroke-width="1.6"/>
<text x="107.2" y="74.0" font-size="15.2" fill="#ff0000" stroke="#ff0000">paroxysms</text>
<text x="107.2" y="90.3" font-size="15.1" fill="#0000ff" stroke="#0000ff">major explosions</text>
<text x="230.3" y="90.3" font-size="14.8" fill="#0000ff" stroke="#0000ff">and</text>
<text x="263.9" y="89.7" font-size="14.4" fill="#0000ff" stroke="#0000ff">uncertain major explosions</text>
<text x="107.4" y="106.2" font-size="15.1" fill="#4a4a4a" stroke="#4a4a4a">seismic sequence<tspan fill="#9a9a9a" stroke="#9a9a9a">s</tspan></text>
<text x="222.0" y="226.9" font-size="14.35" fill="#111" stroke="#111">Under recording of</text>
<text x="222.0" y="242.4" font-size="14.05" fill="#111" stroke="#111">seismic sequences</text>
<text x="36.6" y="319" font-size="19.6" fill="#111" stroke="#111">(b)</text>
<text x="68.5" y="319" font-size="16.8" fill="#111" stroke="#111">Overview of the catalog -- kernel density estimator</text>
<line x1="50.4" y1="339.9" x2="96.9" y2="339.9" stroke="#ff3c3c" stroke-width="1.8"/>
<rect x="52.2" y="362.3" width="45.4" height="20.6" fill="#80a3fa" stroke="#1a1aff" stroke-width="1.3"/>
<line x1="50.9" y1="404.8" x2="97.7" y2="404.8" stroke="#858585" stroke-width="1.9" stroke-dasharray="4.8 3.6"/>
<text x="108.0" y="344.8" font-size="14.4" fill="#111" stroke="#111">paroxysms</text>
<text x="108.0" y="364.8" font-size="14.4" fill="#111" stroke="#111">major explosions and paroxysms,</text>
<text x="108.4" y="381.6" font-size="14.4" fill="#111" stroke="#111">including and excluding uncertain major explosions</text>
<text x="106.2" y="407.5" font-size="14.5" fill="#111" stroke="#111">seismic sequences, major explosions and paroxysms</text>
</g>
</svg>
</body></html>
